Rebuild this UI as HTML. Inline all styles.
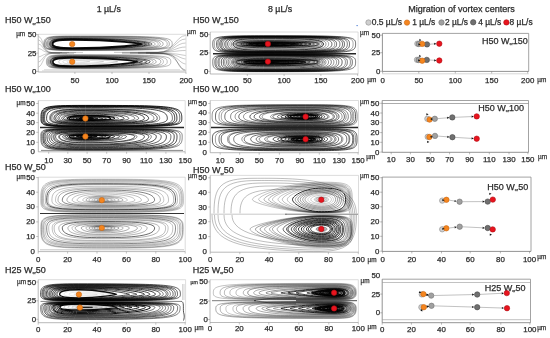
<!DOCTYPE html><html><head><meta charset="utf-8"><title>Migration of vortex centers</title><style>html,body{margin:0;padding:0;background:#fff;overflow:hidden}svg{display:block}</style></head><body>
<svg width="550" height="338" viewBox="0 0 550 338" font-family="Liberation Sans, sans-serif">
<defs><filter id="b" x="-5%" y="-5%" width="110%" height="110%"><feGaussianBlur stdDeviation="0.3"/></filter>
<filter id="b2" x="-5%" y="-5%" width="110%" height="110%"><feGaussianBlur stdDeviation="0.25"/></filter></defs>
<rect width="550" height="338" fill="#fff"/>
<g fill="none" stroke="#000" filter="url(#b)">
<path d="M142.4 44.1C142.4 43.9 117.2 39.8 72.1 39.8C56.7 39.8 52.5 40.8 52.5 44.1C52.5 47.2 56.7 48.2 72.1 48.2C117.2 48.2 142.4 44.3 142.4 44.1Z" stroke-width="1.92" stroke-opacity="0.95"/>
<path d="M146.6 44.1C146.6 43.4 122.5 39.2 72.1 39.2C55.9 39.2 51.2 40.3 51.2 44.1C51.2 47.6 55.9 48.5 72.1 48.5C122.5 48.5 146.6 44.7 146.6 44.1Z" stroke-width="0.76" stroke-opacity="0.85"/>
<path d="M149.6 44.1C149.6 42.7 129.2 38.8 72.1 38.8C55 38.8 50.3 39.9 50.3 44.1C50.3 47.8 55 48.8 72.1 48.8C129.2 48.8 149.6 45.3 149.6 44.1Z" stroke-width="0.86" stroke-opacity="0.85"/>
<path d="M152.1 44.1C152.1 42.1 135.3 38.5 72.1 38.5C54.2 38.5 49.5 39.5 49.5 44.1C49.5 48.1 54.2 48.9 72.1 48.9C135.3 48.9 152.1 45.9 152.1 44.1Z" stroke-width="0.76" stroke-opacity="0.85"/>
<path d="M155.2 44.1C155.2 41.2 143.2 38.1 72.1 38.1C53.2 38.1 48.6 39.1 48.6 44.1C48.6 48.3 53.2 49.2 72.1 49.2C143.2 49.2 155.2 46.6 155.2 44.1Z" stroke-width="0.45" stroke-opacity="0.68"/>
<path d="M158.2 44.1C158.2 40.4 149.3 37.7 72.1 37.7C52.3 37.7 47.8 38.7 47.8 44.1C47.8 48.6 52.3 49.4 72.1 49.4C149.3 49.4 158.2 47.1 158.2 44.1Z" stroke-width="0.38" stroke-opacity="0.68"/>
<path d="M160.3 44.1C160.3 40 151.9 37.5 72.1 37.5C51.6 37.5 47.2 38.4 47.2 44.1C47.2 48.7 51.6 49.5 72.1 49.5C151.9 49.5 160.3 47.5 160.3 44.1Z" stroke-width="0.45" stroke-opacity="0.68"/>
<path d="M163.1 44.1C163.1 39.3 155.5 37.1 72.1 37.1C50.6 37.1 46.4 38 46.4 44.1C46.4 49 50.6 49.7 72.1 49.7C155.5 49.7 163.1 47.9 163.1 44.1Z" stroke-width="0.48" stroke-opacity="0.68"/>
<path d="M167.2 44.1C167.2 38.3 160.9 36.6 72.1 36.6C49.2 36.6 45.2 37.5 45.2 44.1C45.2 49.4 49.2 50 72.1 50C160.9 50 167.2 48.7 167.2 44.1Z" stroke-width="0.43" stroke-opacity="0.68"/>
<path d="M169.3 44.1C169.3 37.8 163.7 36.4 72.1 36.4C48.4 36.4 44.6 37.2 44.6 44.1C44.6 49.5 48.4 50.2 72.1 50.2C163.7 50.2 169.3 49.1 169.3 44.1Z" stroke-width="0.47" stroke-opacity="0.68"/>
<path d="M172.2 44.1C172.2 37 167.7 36 72.1 36C47.3 36 43.8 36.7 43.8 44.1C43.8 49.8 47.3 50.4 72.1 50.4C167.7 50.4 172.2 49.6 172.2 44.1Z" stroke-width="0.46" stroke-opacity="0.68"/>
<path d="M137.9 61.7C137.9 61.5 113.2 57.9 72.1 57.9C57.1 57.9 52.9 58.8 52.9 61.7C52.9 65.1 57.1 66.1 72.1 66.1C113.2 66.1 137.9 61.9 137.9 61.7Z" stroke-width="1.65" stroke-opacity="0.95"/>
<path d="M142.5 61.7C142.5 61.1 119 57.4 72.1 57.4C56.5 57.4 52 58.3 52 61.7C52 65.4 56.5 66.5 72.1 66.5C119 66.5 142.5 62.4 142.5 61.7Z" stroke-width="0.88" stroke-opacity="0.85"/>
<path d="M147 61.7C147 60.3 128.4 57 72.1 57C55.7 57 51.1 57.9 51.1 61.7C51.1 65.8 55.7 66.8 72.1 66.8C128.4 66.8 147 63.2 147 61.7Z" stroke-width="0.74" stroke-opacity="0.85"/>
<path d="M150.2 61.7C150.2 59.6 135.9 56.7 72.1 56.7C54.9 56.7 50.5 57.6 50.5 61.7C50.5 66.1 54.9 67 72.1 67C135.9 67 150.2 63.9 150.2 61.7Z" stroke-width="0.85" stroke-opacity="0.85"/>
<path d="M153.2 61.7C153.2 58.9 143.1 56.4 72.1 56.4C54.3 56.4 49.9 57.2 49.9 61.7C49.9 66.3 54.3 67.2 72.1 67.2C143.1 67.2 153.2 64.6 153.2 61.7Z" stroke-width="0.42" stroke-opacity="0.68"/>
<path d="M156.1 61.7C156.1 58.4 147.7 56.1 72.1 56.1C53.6 56.1 49.3 56.9 49.3 61.7C49.3 66.6 53.6 67.5 72.1 67.5C147.7 67.5 156.1 65.1 156.1 61.7Z" stroke-width="0.49" stroke-opacity="0.68"/>
<path d="M160.8 61.7C160.8 57.5 153.6 55.7 72.1 55.7C52.4 55.7 48.4 56.4 48.4 61.7C48.4 67 52.4 67.8 72.1 67.8C153.6 67.8 160.8 65.9 160.8 61.7Z" stroke-width="0.49" stroke-opacity="0.68"/>
<path d="M163.4 61.7C163.4 57 157 55.4 72.1 55.4C51.7 55.4 47.8 56.1 47.8 61.7C47.8 67.3 51.7 68 72.1 68C157 68 163.4 66.4 163.4 61.7Z" stroke-width="0.37" stroke-opacity="0.68"/>
<path d="M167.2 61.7C167.2 56.2 162 55 72.1 55C50.7 55 47.1 55.7 47.1 61.7C47.1 67.6 50.7 68.3 72.1 68.3C162 68.3 167.2 67.1 167.2 61.7Z" stroke-width="0.38" stroke-opacity="0.68"/>
<path d="M170.8 61.7C170.8 55.4 166.9 54.7 72.1 54.7C49.7 54.7 46.4 55.3 46.4 61.7C46.4 67.9 49.7 68.5 72.1 68.5C166.9 68.5 170.8 67.8 170.8 61.7Z" stroke-width="0.39" stroke-opacity="0.68"/>
<path d="M89.8 61.7C89.8 61.7 83.2 60.7 72.1 60.7C68.1 60.7 66.9 61 66.9 61.7C66.9 62.5 68.1 62.9 72.1 62.9C83.2 62.9 89.8 61.7 89.8 61.7Z" stroke-width="0.3" stroke-opacity="0.4"/>
<path d="M103.7 61.7C103.7 61.7 91.8 59.9 72.1 59.9C64.9 59.9 62.9 60.4 62.9 61.7C62.9 63.1 64.9 63.8 72.1 63.8C91.8 63.8 103.7 61.7 103.7 61.7Z" stroke-width="0.3" stroke-opacity="0.45"/>
<path d="M117.7 61.7C117.7 61.6 100.5 59 72.1 59C61.7 59 58.8 59.8 58.8 61.7C58.8 63.9 61.7 64.8 72.1 64.8C100.5 64.8 117.7 61.8 117.7 61.7Z" stroke-width="0.35" stroke-opacity="0.5"/>
<path d="M38.5 36.5C44 37.5 42 52.6 52 52.6L62 52.6" stroke-width="0.4" stroke-opacity="0.5"/>
<path d="M38.5 40C44 41 42 52.6 52 52.6L69 52.6" stroke-width="0.4" stroke-opacity="0.5"/>
<path d="M38.5 44C44 45 42 52.6 52 52.6L76 52.6" stroke-width="0.4" stroke-opacity="0.5"/>
<path d="M38.5 48.5C44 49.5 42 52.6 52 52.6L83 52.6" stroke-width="0.4" stroke-opacity="0.5"/>
<path d="M38.5 57C43 56 43 53.4 52 53.4L60 53.4" stroke-width="0.4" stroke-opacity="0.5"/>
<path d="M38.5 62C43 61 43 53.4 52 53.4L67 53.4" stroke-width="0.4" stroke-opacity="0.5"/>
<path d="M38.5 67C43 66 43 53.4 52 53.4L74 53.4" stroke-width="0.4" stroke-opacity="0.5"/>
<path d="M185.7 35.5C176 35.5 174 52.4 158 52.4L146 52.4" stroke-width="0.4" stroke-opacity="0.55"/>
<path d="M185.7 39C176 39 174 52.4 158 52.4L138 52.4" stroke-width="0.4" stroke-opacity="0.55"/>
<path d="M185.7 43C176 43 174 52.4 158 52.4L130 52.4" stroke-width="0.4" stroke-opacity="0.55"/>
<path d="M185.7 47C176 47 174 52.4 158 52.4L122 52.4" stroke-width="0.4" stroke-opacity="0.55"/>
<path d="M185.7 50.5C176 50.5 174 52.4 158 52.4L114 52.4" stroke-width="0.4" stroke-opacity="0.55"/>
<path d="M185.7 55.5C178 54.5 178 53.4 160 53.4L146 53.4" stroke-width="0.4" stroke-opacity="0.55"/>
<path d="M185.7 59C178 58 178 53.4 160 53.4L138 53.4" stroke-width="0.4" stroke-opacity="0.55"/>
<path d="M185.7 64C178 63 178 53.4 160 53.4L130 53.4" stroke-width="0.4" stroke-opacity="0.55"/>
<path d="M185.7 70C178 69 178 53.4 160 53.4L122 53.4" stroke-width="0.4" stroke-opacity="0.55"/>
<path d="M185.5 70.5C180 70 178 62 174 57C171 54 166 53.8 150 53.8" stroke-width="0.5" stroke-opacity="0.6"/>
<path d="M44 69.7H180" stroke-width="0.35" stroke-opacity="0.4"/>
<path d="M42 70.7H184" stroke-width="0.35" stroke-opacity="0.35"/>
<path d="M93.5 118.5C93.5 118.3 91.1 117.8 85.4 117.8C81 117.8 79.2 118.3 79.2 118.5C79.2 118.6 81 119 85.4 119C91.1 119 93.5 118.6 93.5 118.5Z" stroke-width="1.12" stroke-opacity="0.95"/>
<path d="M97.8 118.5C97.8 118.2 94.2 117.4 85.4 117.4C78.7 117.4 75.9 118.2 75.9 118.5C75.9 118.7 78.7 119.2 85.4 119.2C94.2 119.2 97.8 118.7 97.8 118.5Z" stroke-width="0.97" stroke-opacity="0.95"/>
<path d="M102.7 118.5C102.7 117.9 97.8 116.8 85.4 116.8C76.5 116.8 72.9 117.9 72.9 118.5C72.9 118.8 76.5 119.5 85.4 119.5C97.8 119.5 102.7 118.8 102.7 118.5Z" stroke-width="0.8" stroke-opacity="0.95"/>
<path d="M106.3 118.5C106.3 117.8 100.4 116.4 85.4 116.4C75.3 116.4 71.3 117.8 71.3 118.5C71.3 119 75.3 119.8 85.4 119.8C100.4 119.8 106.3 119 106.3 118.5Z" stroke-width="0.67" stroke-opacity="0.95"/>
<path d="M110.7 118.5C110.7 117.5 103.7 115.9 85.4 115.9C73.7 115.9 69.3 117.5 69.3 118.5C69.3 119.1 73.7 120.1 85.4 120.1C103.7 120.1 110.7 119.1 110.7 118.5Z" stroke-width="1.13" stroke-opacity="0.95"/>
<path d="M114.6 118.5C114.6 117.2 106.6 115.4 85.4 115.4C72.4 115.4 67.5 117.2 67.5 118.5C67.5 119.3 72.4 120.4 85.4 120.4C106.6 120.4 114.6 119.3 114.6 118.5Z" stroke-width="1.21" stroke-opacity="0.95"/>
<path d="M118.5 118.5C118.5 116.9 109.6 114.9 85.4 114.9C71.1 114.9 65.8 116.9 65.8 118.5C65.8 119.5 71.1 120.8 85.4 120.8C109.6 120.8 118.5 119.5 118.5 118.5Z" stroke-width="0.53" stroke-opacity="0.9"/>
<path d="M124.2 118.5C124.2 116.3 114 114 85.4 114C69.3 114 63.6 116.3 63.6 118.5C63.6 119.8 69.3 121.3 85.4 121.3C114 121.3 124.2 119.8 124.2 118.5Z" stroke-width="0.85" stroke-opacity="0.9"/>
<path d="M128.8 118.5C128.8 115.8 117.7 113.3 85.4 113.3C67.8 113.3 61.7 115.8 61.7 118.5C61.7 120.2 67.8 121.7 85.4 121.7C117.7 121.7 128.8 120.2 128.8 118.5Z" stroke-width="0.68" stroke-opacity="0.9"/>
<path d="M134.8 118.5C134.8 115.1 122.6 112.4 85.4 112.4C65.8 112.4 59.4 115.1 59.4 118.5C59.4 120.7 65.8 122.3 85.4 122.3C122.6 122.3 134.8 120.7 134.8 118.5Z" stroke-width="0.56" stroke-opacity="0.9"/>
<path d="M138.6 118.5C138.6 114.5 125.6 111.9 85.4 111.9C64.6 111.9 57.9 114.5 57.9 118.5C57.9 121 64.6 122.7 85.4 122.7C125.6 122.7 138.6 121 138.6 118.5Z" stroke-width="0.62" stroke-opacity="0.9"/>
<path d="M144.3 118.5C144.3 113.7 130.4 111 85.4 111C62.7 111 55.7 113.7 55.7 118.5C55.7 121.5 62.7 123.2 85.4 123.2C130.4 123.2 144.3 121.5 144.3 118.5Z" stroke-width="0.84" stroke-opacity="0.9"/>
<path d="M148.6 118.5C148.6 113 134.1 110.4 85.4 110.4C61.2 110.4 54 113 54 118.5C54 122 61.2 123.6 85.4 123.6C134.1 123.6 148.6 122 148.6 118.5Z" stroke-width="0.89" stroke-opacity="0.9"/>
<path d="M153.9 118.5C153.9 112 138.6 109.6 85.4 109.6C59.4 109.6 51.9 112 51.9 118.5C51.9 122.5 59.4 124.1 85.4 124.1C138.6 124.1 153.9 122.5 153.9 118.5Z" stroke-width="0.51" stroke-opacity="0.9"/>
<path d="M157.2 118.5C157.2 111.4 141.6 109.1 85.4 109.1C58.2 109.1 50.6 111.4 50.6 118.5C50.6 122.9 58.2 124.4 85.4 124.4C141.6 124.4 157.2 122.9 157.2 118.5Z" stroke-width="0.77" stroke-opacity="0.9"/>
<path d="M159.7 118.5C159.7 110.9 145.1 108.7 85.4 108.7C56.7 108.7 49.6 110.9 49.6 118.5C49.6 123.2 56.7 124.7 85.4 124.7C145.1 124.7 159.7 123.2 159.7 118.5Z" stroke-width="0.51" stroke-opacity="0.9"/>
<path d="M167.3 118.5C167.3 109.4 156.1 107.5 85.4 107.5C52 107.5 46.6 109.4 46.6 118.5C46.6 124.2 52 125.4 85.4 125.4C156.1 125.4 167.3 124.2 167.3 118.5Z" stroke-width="0.82" stroke-opacity="0.9"/>
<path d="M172.4 118.5C172.4 108.3 164 106.8 85.4 106.8C48.6 106.8 44.6 108.3 44.6 118.5C44.6 124.9 48.6 125.9 85.4 125.9C164 125.9 172.4 124.9 172.4 118.5Z" stroke-width="0.64" stroke-opacity="0.9"/>
<path d="M174.7 118.5C174.7 107.7 167.6 106.4 85.4 106.4C47.1 106.4 43.8 107.7 43.8 118.5C43.8 125.2 47.1 126.1 85.4 126.1C167.6 126.1 174.7 125.2 174.7 118.5Z" stroke-width="0.89" stroke-opacity="0.9"/>
<path d="M176.9 118.5C176.9 107.2 170.9 106.1 85.4 106.1C45.7 106.1 42.9 107.2 42.9 118.5C42.9 125.6 45.7 126.3 85.4 126.3C170.9 126.3 176.9 125.6 176.9 118.5Z" stroke-width="0.94" stroke-opacity="0.9"/>
<path d="M179.8 118.5C179.8 106.5 175.3 105.7 85.4 105.7C43.9 105.7 41.8 106.5 41.8 118.5C41.8 126 43.9 126.5 85.4 126.5C175.3 126.5 179.8 126 179.8 118.5Z" stroke-width="0.72" stroke-opacity="0.9"/>
<path d="M181.8 118.5C181.8 106.1 178.3 105.4 85.4 105.4C42.6 105.4 41 106.1 41 118.5C41 126.3 42.6 126.7 85.4 126.7C178.3 126.7 181.8 126.3 181.8 118.5Z" stroke-width="0.94" stroke-opacity="0.9"/>
<path d="M92.1 136.4C92.1 136.3 90.1 136 85.4 136C81.8 136 80.3 136.3 80.3 136.4C80.3 136.6 81.8 137 85.4 137C90.1 137 92.1 136.6 92.1 136.4Z" stroke-width="0.88" stroke-opacity="0.95"/>
<path d="M97 136.4C97 136.2 93.6 135.8 85.4 135.8C79.1 135.8 76.5 136.2 76.5 136.4C76.5 136.7 79.1 137.5 85.4 137.5C93.6 137.5 97 136.7 97 136.4Z" stroke-width="1.05" stroke-opacity="0.95"/>
<path d="M102.7 136.4C102.7 136.1 97.7 135.4 85.4 135.4C76.5 135.4 72.9 136.1 72.9 136.4C72.9 137 76.5 138.1 85.4 138.1C97.7 138.1 102.7 137 102.7 136.4Z" stroke-width="0.77" stroke-opacity="0.95"/>
<path d="M105.8 136.4C105.8 136 100.1 135.2 85.4 135.2C75.4 135.2 71.5 136 71.5 136.4C71.5 137.1 75.4 138.5 85.4 138.5C100.1 138.5 105.8 137.1 105.8 136.4Z" stroke-width="0.81" stroke-opacity="0.95"/>
<path d="M110.2 136.4C110.2 135.8 103.3 134.8 85.4 134.8C73.9 134.8 69.5 135.8 69.5 136.4C69.5 137.4 73.9 139 85.4 139C103.3 139 110.2 137.4 110.2 136.4Z" stroke-width="1.2" stroke-opacity="0.95"/>
<path d="M114.6 136.4C114.6 135.6 106.6 134.5 85.4 134.5C72.4 134.5 67.5 135.6 67.5 136.4C67.5 137.7 72.4 139.6 85.4 139.6C106.6 139.6 114.6 137.7 114.6 136.4Z" stroke-width="0.93" stroke-opacity="0.95"/>
<path d="M119.6 136.4C119.6 135.4 110.4 134.1 85.4 134.1C70.7 134.1 65.4 135.4 65.4 136.4C65.4 138.1 70.7 140.3 85.4 140.3C110.4 140.3 119.6 138.1 119.6 136.4Z" stroke-width="0.74" stroke-opacity="0.9"/>
<path d="M122.4 136.4C122.4 135.2 112.6 133.8 85.4 133.8C69.9 133.8 64.3 135.2 64.3 136.4C64.3 138.4 69.9 140.7 85.4 140.7C112.6 140.7 122.4 138.4 122.4 136.4Z" stroke-width="0.5" stroke-opacity="0.9"/>
<path d="M126.5 136.4C126.5 134.9 115.9 133.5 85.4 133.5C68.5 133.5 62.6 134.9 62.6 136.4C62.6 138.9 68.5 141.4 85.4 141.4C115.9 141.4 126.5 138.9 126.5 136.4Z" stroke-width="0.68" stroke-opacity="0.9"/>
<path d="M134.7 136.4C134.7 134.3 122.4 132.7 85.4 132.7C65.9 132.7 59.4 134.3 59.4 136.4C59.4 139.9 65.9 142.7 85.4 142.7C122.4 142.7 134.7 139.9 134.7 136.4Z" stroke-width="0.75" stroke-opacity="0.9"/>
<path d="M137 136.4C137 134.1 124.4 132.5 85.4 132.5C65.1 132.5 58.5 134.1 58.5 136.4C58.5 140.3 65.1 143 85.4 143C124.4 143 137 140.3 137 136.4Z" stroke-width="0.5" stroke-opacity="0.9"/>
<path d="M144.4 136.4C144.4 133.4 130.5 131.8 85.4 131.8C62.7 131.8 55.6 133.4 55.6 136.4C55.6 141.4 62.7 144.2 85.4 144.2C130.5 144.2 144.4 141.4 144.4 136.4Z" stroke-width="0.77" stroke-opacity="0.9"/>
<path d="M148.8 136.4C148.8 133 134.2 131.4 85.4 131.4C61.2 131.4 53.9 133 53.9 136.4C53.9 142.2 61.2 144.9 85.4 144.9C134.2 144.9 148.8 142.2 148.8 136.4Z" stroke-width="0.78" stroke-opacity="0.9"/>
<path d="M151.3 136.4C151.3 132.7 136.3 131.2 85.4 131.2C60.3 131.2 52.9 132.7 52.9 136.4C52.9 142.6 60.3 145.3 85.4 145.3C136.3 145.3 151.3 142.6 151.3 136.4Z" stroke-width="0.52" stroke-opacity="0.9"/>
<path d="M156.3 136.4C156.3 132.2 140.7 130.7 85.4 130.7C58.6 130.7 51 132.2 51 136.4C51 143.6 58.6 146.1 85.4 146.1C140.7 146.1 156.3 143.6 156.3 136.4Z" stroke-width="0.78" stroke-opacity="0.9"/>
<path d="M161.2 136.4C161.2 131.6 147.2 130.3 85.4 130.3C55.8 130.3 49 131.6 49 136.4C49 144.6 55.8 146.8 85.4 146.8C147.2 146.8 161.2 144.6 161.2 136.4Z" stroke-width="0.7" stroke-opacity="0.9"/>
<path d="M166.4 136.4C166.4 130.9 154.7 129.8 85.4 129.8C52.5 129.8 47 130.9 47 136.4C47 145.7 52.5 147.6 85.4 147.6C154.7 147.6 166.4 145.7 166.4 136.4Z" stroke-width="0.8" stroke-opacity="0.9"/>
<path d="M170.9 136.4C170.9 130.3 161.6 129.4 85.4 129.4C49.6 129.4 45.2 130.3 45.2 136.4C45.2 146.7 49.6 148.3 85.4 148.3C161.6 148.3 170.9 146.7 170.9 136.4Z" stroke-width="0.65" stroke-opacity="0.9"/>
<path d="M174.2 136.4C174.2 129.9 166.9 129.1 85.4 129.1C47.4 129.1 43.9 129.9 43.9 136.4C43.9 147.4 47.4 148.9 85.4 148.9C166.9 148.9 174.2 147.4 174.2 136.4Z" stroke-width="0.81" stroke-opacity="0.9"/>
<path d="M177 136.4C177 129.5 171 128.8 85.4 128.8C45.6 128.8 42.9 129.5 42.9 136.4C42.9 148.1 45.6 149.3 85.4 149.3C171 149.3 177 148.1 177 136.4Z" stroke-width="0.83" stroke-opacity="0.9"/>
<path d="M180.1 136.4C180.1 129 175.7 128.5 85.4 128.5C43.7 128.5 41.6 129 41.6 136.4C41.6 148.9 43.7 149.8 85.4 149.8C175.7 149.8 180.1 148.9 180.1 136.4Z" stroke-width="0.5" stroke-opacity="0.9"/>
<path d="M182.2 136.4C182.2 128.7 179 128.3 85.4 128.3C42.3 128.3 40.8 128.7 40.8 136.4C40.8 149.4 42.3 150.1 85.4 150.1C179 150.1 182.2 149.4 182.2 136.4Z" stroke-width="0.52" stroke-opacity="0.9"/>
<path d="M40 127.5H184" stroke-width="1.5" stroke-opacity="0.85"/>
<path d="M41 150.4H183" stroke-width="0.8" stroke-opacity="0.6"/>
<path d="M108.5 200.2C108.5 199.7 105.8 199 101.8 199C98.8 199 96.8 199.7 96.8 200.2C96.8 200.5 98.8 200.9 101.8 200.9C105.8 200.9 108.5 200.5 108.5 200.2Z" stroke-width="0.48" stroke-opacity="0.7"/>
<path d="M112.5 200.2C112.5 199.3 108.3 198.2 101.8 198.2C97 198.2 93.8 199.3 93.8 200.2C93.8 200.7 97 201.4 101.8 201.4C108.3 201.4 112.5 200.7 112.5 200.2Z" stroke-width="0.37" stroke-opacity="0.7"/>
<path d="M115.4 200.2C115.4 199 110 197.7 101.8 197.7C95.6 197.7 91.7 199 91.7 200.2C91.7 200.9 95.6 201.7 101.8 201.7C110 201.7 115.4 200.9 115.4 200.2Z" stroke-width="0.36" stroke-opacity="0.7"/>
<path d="M119.3 200.2C119.3 198.6 112.5 196.9 101.8 196.9C93.8 196.9 88.7 198.6 88.7 200.2C88.7 201.1 93.8 202.1 101.8 202.1C112.5 202.1 119.3 201.1 119.3 200.2Z" stroke-width="0.41" stroke-opacity="0.7"/>
<path d="M123.1 200.2C123.1 198.2 114.9 196.2 101.8 196.2C92 196.2 85.9 198.2 85.9 200.2C85.9 201.3 92 202.5 101.8 202.5C114.9 202.5 123.1 201.3 123.1 200.2Z" stroke-width="0.46" stroke-opacity="0.7"/>
<path d="M127.4 200.2C127.4 197.7 117.6 195.4 101.8 195.4C90 195.4 82.6 197.7 82.6 200.2C82.6 201.6 90 203 101.8 203C117.6 203 127.4 201.6 127.4 200.2Z" stroke-width="0.34" stroke-opacity="0.65"/>
<path d="M134.9 200.2C134.9 196.8 122.3 194 101.8 194C86.5 194 77.1 196.8 77.1 200.2C77.1 202.1 86.5 203.8 101.8 203.8C122.3 203.8 134.9 202.1 134.9 200.2Z" stroke-width="0.38" stroke-opacity="0.65"/>
<path d="M141.4 200.2C141.4 195.8 127.8 192.7 101.8 192.7C82.4 192.7 72.2 195.8 72.2 200.2C72.2 202.7 82.4 204.5 101.8 204.5C127.8 204.5 141.4 202.7 141.4 200.2Z" stroke-width="0.39" stroke-opacity="0.65"/>
<path d="M148.4 200.2C148.4 194.6 134.7 191.3 101.8 191.3C77.2 191.3 66.9 194.6 66.9 200.2C66.9 203.4 77.2 205.4 101.8 205.4C134.7 205.4 148.4 203.4 148.4 200.2Z" stroke-width="0.49" stroke-opacity="0.65"/>
<path d="M154.6 200.2C154.6 193.5 141.4 190 101.8 190C72.2 190 62.3 193.5 62.3 200.2C62.3 204.1 72.2 206.1 101.8 206.1C141.4 206.1 154.6 204.1 154.6 200.2Z" stroke-width="0.66" stroke-opacity="0.75"/>
<path d="M160.4 200.2C160.4 192 148.7 188.7 101.8 188.7C66.8 188.7 58 192 58 200.2C58 204.9 66.8 206.9 101.8 206.9C148.7 206.9 160.4 204.9 160.4 200.2Z" stroke-width="0.49" stroke-opacity="0.65"/>
<path d="M163.8 200.2C163.8 191 153.6 187.7 101.8 187.7C63.1 187.7 55.5 191 55.5 200.2C55.5 205.5 63.1 207.5 101.8 207.5C153.6 207.5 163.8 205.5 163.8 200.2Z" stroke-width="0.35" stroke-opacity="0.65"/>
<path d="M168.5 200.2C168.5 189.5 159.4 186.3 101.8 186.3C58.7 186.3 51.9 189.5 51.9 200.2C51.9 206.4 58.7 208.3 101.8 208.3C159.4 208.3 168.5 206.4 168.5 200.2Z" stroke-width="0.39" stroke-opacity="0.65"/>
<path d="M173.7 200.2C173.7 187.5 165.7 184.6 101.8 184.6C54 184.6 48 187.5 48 200.2C48 207.5 54 209.2 101.8 209.2C165.7 209.2 173.7 207.5 173.7 200.2Z" stroke-width="0.45" stroke-opacity="0.65"/>
<path d="M175.5 200.2C175.5 186.6 168.1 183.8 101.8 183.8C52.2 183.8 46.7 186.6 46.7 200.2C46.7 208.1 52.2 209.7 101.8 209.7C168.1 209.7 175.5 208.1 175.5 200.2Z" stroke-width="0.87" stroke-opacity="0.75"/>
<path d="M177.4 200.2C177.4 185.5 170.8 182.9 101.8 182.9C50.2 182.9 45.3 185.5 45.3 200.2C45.3 208.7 50.2 210.2 101.8 210.2C170.8 210.2 177.4 208.7 177.4 200.2Z" stroke-width="0.43" stroke-opacity="0.68"/>
<path d="M179.8 200.2C179.8 184 174.3 181.7 101.8 181.7C47.6 181.7 43.5 184 43.5 200.2C43.5 209.6 47.6 210.9 101.8 210.9C174.3 210.9 179.8 209.6 179.8 200.2Z" stroke-width="0.38" stroke-opacity="0.68"/>
<path d="M181.2 200.2C181.2 182.7 176.7 180.8 101.8 180.8C45.8 180.8 42.5 182.7 42.5 200.2C42.5 210.3 45.8 211.4 101.8 211.4C176.7 211.4 181.2 210.3 181.2 200.2Z" stroke-width="0.36" stroke-opacity="0.68"/>
<path d="M182.2 200.2C182.2 181.7 178.5 180 101.8 180C44.5 180 41.7 181.7 41.7 200.2C41.7 210.9 44.5 211.9 101.8 211.9C178.5 211.9 182.2 210.9 182.2 200.2Z" stroke-width="0.45" stroke-opacity="0.68"/>
<path d="M183.4 200.2C183.4 180.5 180.7 179.2 101.8 179.2C42.8 179.2 40.8 180.5 40.8 200.2C40.8 211.6 42.8 212.4 101.8 212.4C180.7 212.4 183.4 211.6 183.4 200.2Z" stroke-width="0.38" stroke-opacity="0.68"/>
<path d="M108.6 227.9C108.6 227.6 105.9 227.1 101.8 227.1C98.7 227.1 96.7 227.6 96.7 227.9C96.7 228.4 98.7 229.1 101.8 229.1C105.9 229.1 108.6 228.4 108.6 227.9Z" stroke-width="0.32" stroke-opacity="0.7"/>
<path d="M112.3 227.9C112.3 227.3 108.2 226.7 101.8 226.7C97 226.7 93.9 227.3 93.9 227.9C93.9 228.7 97 229.8 101.8 229.8C108.2 229.8 112.3 228.7 112.3 227.9Z" stroke-width="0.51" stroke-opacity="0.7"/>
<path d="M115.3 227.9C115.3 227.2 110 226.3 101.8 226.3C95.7 226.3 91.7 227.2 91.7 227.9C91.7 229 95.7 230.3 101.8 230.3C110 230.3 115.3 229 115.3 227.9Z" stroke-width="0.5" stroke-opacity="0.7"/>
<path d="M119.1 227.9C119.1 226.9 112.3 225.9 101.8 225.9C93.9 225.9 88.9 226.9 88.9 227.9C88.9 229.4 93.9 231 101.8 231C112.3 231 119.1 229.4 119.1 227.9Z" stroke-width="0.52" stroke-opacity="0.7"/>
<path d="M123.4 227.9C123.4 226.6 115 225.4 101.8 225.4C91.9 225.4 85.7 226.6 85.7 227.9C85.7 229.8 91.9 231.8 101.8 231.8C115 231.8 123.4 229.8 123.4 227.9Z" stroke-width="0.41" stroke-opacity="0.7"/>
<path d="M129.3 227.9C129.3 226.2 118.7 224.7 101.8 224.7C89.1 224.7 81.2 226.2 81.2 227.9C81.2 230.5 89.1 232.9 101.8 232.9C118.7 232.9 129.3 230.5 129.3 227.9Z" stroke-width="0.51" stroke-opacity="0.65"/>
<path d="M137.4 227.9C137.4 225.6 124.1 223.7 101.8 223.7C85.1 223.7 75.2 225.6 75.2 227.9C75.2 231.5 85.1 234.4 101.8 234.4C124.1 234.4 137.4 231.5 137.4 227.9Z" stroke-width="0.51" stroke-opacity="0.65"/>
<path d="M141.6 227.9C141.6 225.1 128 223.2 101.8 223.2C82.2 223.2 72 225.1 72 227.9C72 232.1 82.2 235.2 101.8 235.2C128 235.2 141.6 232.1 141.6 227.9Z" stroke-width="0.36" stroke-opacity="0.65"/>
<path d="M147.1 227.9C147.1 224.5 133.4 222.5 101.8 222.5C78.2 222.5 67.9 224.5 67.9 227.9C67.9 233.1 78.2 236.3 101.8 236.3C133.4 236.3 147.1 233.1 147.1 227.9Z" stroke-width="0.47" stroke-opacity="0.65"/>
<path d="M154.6 227.9C154.6 223.7 141.4 221.5 101.8 221.5C72.2 221.5 62.3 223.7 62.3 227.9C62.3 234.4 72.2 237.7 101.8 237.7C141.4 237.7 154.6 234.4 154.6 227.9Z" stroke-width="0.79" stroke-opacity="0.75"/>
<path d="M159.3 227.9C159.3 223 147.2 220.8 101.8 220.8C67.9 220.8 58.8 223 58.8 227.9C58.8 235.5 67.9 238.8 101.8 238.8C147.2 238.8 159.3 235.5 159.3 227.9Z" stroke-width="0.45" stroke-opacity="0.65"/>
<path d="M165.6 227.9C165.6 221.7 156.1 219.7 101.8 219.7C61.2 219.7 54.1 221.7 54.1 227.9C54.1 237.4 61.2 240.5 101.8 240.5C156.1 240.5 165.6 237.4 165.6 227.9Z" stroke-width="0.42" stroke-opacity="0.65"/>
<path d="M168.1 227.9C168.1 221.2 159 219.2 101.8 219.2C59 219.2 52.2 221.2 52.2 227.9C52.2 238.2 59 241.3 101.8 241.3C159 241.3 168.1 238.2 168.1 227.9Z" stroke-width="0.38" stroke-opacity="0.65"/>
<path d="M172.8 227.9C172.8 220.2 164.4 218.3 101.8 218.3C55 218.3 48.7 220.2 48.7 227.9C48.7 239.7 55 242.6 101.8 242.6C164.4 242.6 172.8 239.7 172.8 227.9Z" stroke-width="0.39" stroke-opacity="0.65"/>
<path d="M175.5 227.9C175.5 219.3 168.1 217.6 101.8 217.6C52.2 217.6 46.7 219.3 46.7 227.9C46.7 241.1 52.2 243.8 101.8 243.8C168.1 243.8 175.5 241.1 175.5 227.9Z" stroke-width="0.64" stroke-opacity="0.75"/>
<path d="M177.8 227.9C177.8 218.5 171.3 216.9 101.8 216.9C49.8 216.9 45 218.5 45 227.9C45 242.4 49.8 244.8 101.8 244.8C171.3 244.8 177.8 242.4 177.8 227.9Z" stroke-width="0.35" stroke-opacity="0.68"/>
<path d="M179.7 227.9C179.7 217.8 174.1 216.3 101.8 216.3C47.7 216.3 43.6 217.8 43.6 227.9C43.6 243.5 47.7 245.7 101.8 245.7C174.1 245.7 179.7 243.5 179.7 227.9Z" stroke-width="0.46" stroke-opacity="0.68"/>
<path d="M181 227.9C181 217 176.3 215.8 101.8 215.8C46.1 215.8 42.6 217 42.6 227.9C42.6 244.6 46.1 246.6 101.8 246.6C176.3 246.6 181 244.6 181 227.9Z" stroke-width="0.4" stroke-opacity="0.68"/>
<path d="M182.6 227.9C182.6 216 179.2 215 101.8 215C44 215 41.4 216 41.4 227.9C41.4 246.1 44 247.7 101.8 247.7C179.2 247.7 182.6 246.1 182.6 227.9Z" stroke-width="0.51" stroke-opacity="0.68"/>
<path d="M183.3 227.9C183.3 215.5 180.6 214.7 101.8 214.7C42.9 214.7 40.8 215.5 40.8 227.9C40.8 246.9 42.9 248.2 101.8 248.2C180.6 248.2 183.3 246.9 183.3 227.9Z" stroke-width="0.35" stroke-opacity="0.68"/>
<path d="M40 213.5H184" stroke-width="1" stroke-opacity="0.8"/>
<path d="M40 249.8H184" stroke-width="0.45" stroke-opacity="0.5"/>
<path d="M116.7 294.3C116.7 294.1 99.7 289.8 78.9 289.8C63.7 289.8 59.6 291.5 59.6 294.3C59.6 296.6 63.7 297.9 78.9 297.9C99.7 297.9 116.7 294.4 116.7 294.3Z" stroke-width="1.38" stroke-opacity="0.95"/>
<path d="M129.5 294.3C129.5 293.9 107.2 289.1 78.9 289.1C61.6 289.1 57.1 290.8 57.1 294.3C57.1 297 61.6 298.3 78.9 298.3C107.2 298.3 129.5 294.6 129.5 294.3Z" stroke-width="0.78" stroke-opacity="0.9"/>
<path d="M136.8 294.3C136.8 293.3 115.8 288.6 78.9 288.6C60.3 288.6 55.7 290.4 55.7 294.3C55.7 297.2 60.3 298.5 78.9 298.5C115.8 298.5 136.8 295 136.8 294.3Z" stroke-width="0.75" stroke-opacity="0.9"/>
<path d="M144.5 294.3C144.5 292.6 125.4 288.1 78.9 288.1C58.7 288.1 54 289.9 54 294.3C54 297.5 58.7 298.8 78.9 298.8C125.4 298.8 144.5 295.5 144.5 294.3Z" stroke-width="0.92" stroke-opacity="0.9"/>
<path d="M149.9 294.3C149.9 291.8 133 287.6 78.9 287.6C57.3 287.6 52.5 289.4 52.5 294.3C52.5 297.7 57.3 299 78.9 299C133 299 149.9 296.1 149.9 294.3Z" stroke-width="0.81" stroke-opacity="0.9"/>
<path d="M155.3 294.3C155.3 290.9 141.2 287.1 78.9 287.1C55.8 287.1 50.9 288.9 50.9 294.3C50.9 298 55.8 299.3 78.9 299.3C141.2 299.3 155.3 296.6 155.3 294.3Z" stroke-width="0.9" stroke-opacity="0.9"/>
<path d="M160.1 294.3C160.1 290.1 148.6 286.7 78.9 286.7C54.4 286.7 49.6 288.4 49.6 294.3C49.6 298.3 54.4 299.5 78.9 299.5C148.6 299.5 160.1 297.2 160.1 294.3Z" stroke-width="0.78" stroke-opacity="0.9"/>
<path d="M163.2 294.3C163.2 289.5 153.5 286.4 78.9 286.4C53.4 286.4 48.6 288.1 48.6 294.3C48.6 298.5 53.4 299.6 78.9 299.6C153.5 299.6 163.2 297.5 163.2 294.3Z" stroke-width="0.6" stroke-opacity="0.85"/>
<path d="M166.3 294.3C166.3 288.7 157.3 285.9 78.9 285.9C51.9 285.9 47.1 287.5 47.1 294.3C47.1 298.8 51.9 299.8 78.9 299.8C157.3 299.8 166.3 298 166.3 294.3Z" stroke-width="0.67" stroke-opacity="0.85"/>
<path d="M168 294.3C168 288.4 159.3 285.6 78.9 285.6C51.1 285.6 46.3 287.2 46.3 294.3C46.3 298.9 51.1 300 78.9 300C159.3 300 168 298.2 168 294.3Z" stroke-width="0.74" stroke-opacity="0.85"/>
<path d="M170.4 294.3C170.4 287.7 162.4 285.3 78.9 285.3C49.9 285.3 45.2 286.8 45.2 294.3C45.2 299.1 49.9 300.1 78.9 300.1C162.4 300.1 170.4 298.5 170.4 294.3Z" stroke-width="0.59" stroke-opacity="0.85"/>
<path d="M173.1 294.3C173.1 287 166 284.9 78.9 284.9C48.6 284.9 43.9 286.3 43.9 294.3C43.9 299.4 48.6 300.3 78.9 300.3C166 300.3 173.1 299 173.1 294.3Z" stroke-width="0.73" stroke-opacity="0.85"/>
<path d="M175.3 294.3C175.3 286.4 168.8 284.6 78.9 284.6C47.5 284.6 42.9 285.9 42.9 294.3C42.9 299.6 47.5 300.5 78.9 300.5C168.8 300.5 175.3 299.3 175.3 294.3Z" stroke-width="0.76" stroke-opacity="0.85"/>
<path d="M177.5 294.3C177.5 285.8 171.8 284.2 78.9 284.2C46.4 284.2 41.9 285.5 41.9 294.3C41.9 299.9 46.4 300.6 78.9 300.6C171.8 300.6 177.5 299.6 177.5 294.3Z" stroke-width="0.74" stroke-opacity="0.85"/>
<path d="M180.4 294.3C180.4 285 175.8 283.8 78.9 283.8C44.8 283.8 40.5 284.9 40.5 294.3C40.5 300.2 44.8 300.9 78.9 300.9C175.8 300.9 180.4 300.1 180.4 294.3Z" stroke-width="0.74" stroke-opacity="0.85"/>
<path d="M97.5 294.3C97.5 294.3 93.7 293.5 78.9 293.5C75 293.5 74.1 293.8 74.1 294.3C74.1 294.7 75 295 78.9 295C93.7 295 97.5 294.3 97.5 294.3Z" stroke-width="0.3" stroke-opacity="0.3"/>
<path d="M104.2 294.3C104.2 294.3 94.6 292.2 78.9 292.2C71.2 292.2 69 293.1 69 294.3C69 295.3 71.2 296 78.9 296C94.6 296 104.2 294.3 104.2 294.3Z" stroke-width="0.3" stroke-opacity="0.3"/>
<path d="M110.9 294.3C110.9 294.2 96.5 290.9 78.9 290.9C67.3 290.9 64 292.3 64 294.3C64 296 67.3 297 78.9 297C96.5 297 110.9 294.4 110.9 294.3Z" stroke-width="0.3" stroke-opacity="0.3"/>
<path d="M117.4 307.3C117.4 307.2 102.8 304.1 80 304.1C63.1 304.1 60.1 305.3 60.1 307.3C60.1 308.9 63.1 309.9 80 309.9C102.8 309.9 117.4 307.4 117.4 307.3Z" stroke-width="1.14" stroke-opacity="0.95"/>
<path d="M124.4 307.3C124.4 307.1 107.3 303.9 80 303.9C62.1 303.9 58.7 305.1 58.7 307.3C58.7 309.5 62.1 310.8 80 310.8C107.3 310.8 124.4 307.5 124.4 307.3Z" stroke-width="1.03" stroke-opacity="0.95"/>
<path d="M132 307.3C132 306.9 113.5 303.7 80 303.7C61 303.7 57.2 304.9 57.2 307.3C57.2 310.2 61 311.7 80 311.7C113.5 311.7 132 307.7 132 307.3Z" stroke-width="0.96" stroke-opacity="0.95"/>
<path d="M139.2 307.3C139.2 306.6 120.8 303.6 80 303.6C59.9 303.6 55.7 304.7 55.7 307.3C55.7 310.9 59.9 312.5 80 312.5C120.8 312.5 139.2 308.3 139.2 307.3Z" stroke-width="0.96" stroke-opacity="0.95"/>
<path d="M145.5 307.3C145.5 306.2 127.9 303.4 80 303.4C58.6 303.4 54.2 304.5 54.2 307.3C54.2 311.7 58.6 313.5 80 313.5C127.9 313.5 145.5 309.1 145.5 307.3Z" stroke-width="0.97" stroke-opacity="0.95"/>
<path d="M150.2 307.3C150.2 305.8 133.9 303.3 80 303.3C57.5 303.3 52.8 304.4 52.8 307.3C52.8 312.4 57.5 314.3 80 314.3C133.9 314.3 150.2 309.9 150.2 307.3Z" stroke-width="1.08" stroke-opacity="0.95"/>
<path d="M154.9 307.3C154.9 305.4 140.6 303.1 80 303.1C56.2 303.1 51.4 304.2 51.4 307.3C51.4 313.1 56.2 315 80 315C140.6 315 154.9 310.8 154.9 307.3Z" stroke-width="0.69" stroke-opacity="0.85"/>
<path d="M160.1 307.3C160.1 304.9 148.5 303 80 303C54.8 303 49.9 304 49.9 307.3C49.9 313.7 54.8 315.6 80 315.6C148.5 315.6 160.1 311.9 160.1 307.3Z" stroke-width="0.63" stroke-opacity="0.85"/>
<path d="M162.8 307.3C162.8 304.6 153 302.9 80 302.9C54 302.9 49.1 303.8 49.1 307.3C49.1 314.1 54 316 80 316C153 316 162.8 312.5 162.8 307.3Z" stroke-width="0.6" stroke-opacity="0.85"/>
<path d="M165.6 307.3C165.6 304.3 156.3 302.7 80 302.7C52.6 302.7 47.8 303.6 47.8 307.3C47.8 314.7 52.6 316.5 80 316.5C156.3 316.5 165.6 313.3 165.6 307.3Z" stroke-width="0.63" stroke-opacity="0.85"/>
<path d="M168.4 307.3C168.4 304 159.7 302.6 80 302.6C51.2 302.6 46.4 303.4 46.4 307.3C46.4 315.3 51.2 317.1 80 317.1C159.7 317.1 168.4 314.1 168.4 307.3Z" stroke-width="0.58" stroke-opacity="0.85"/>
<path d="M171.1 307.3C171.1 303.7 163.1 302.4 80 302.4C49.9 302.4 45.1 303.2 45.1 307.3C45.1 316 49.9 317.7 80 317.7C163.1 317.7 171.1 314.9 171.1 307.3Z" stroke-width="0.68" stroke-opacity="0.85"/>
<path d="M173.7 307.3C173.7 303.4 166.5 302.3 80 302.3C48.5 302.3 43.8 303 43.8 307.3C43.8 316.6 48.5 318.2 80 318.2C166.5 318.2 173.7 315.8 173.7 307.3Z" stroke-width="0.72" stroke-opacity="0.85"/>
<path d="M177.6 307.3C177.6 302.9 171.8 302.1 80 302.1C46.5 302.1 41.9 302.7 41.9 307.3C41.9 317.6 46.5 319 80 319C171.8 319 177.6 317.2 177.6 307.3Z" stroke-width="0.64" stroke-opacity="0.85"/>
<path d="M180.1 307.3C180.1 302.6 175.3 301.9 80 301.9C45.1 301.9 40.6 302.5 40.6 307.3C40.6 318.2 45.1 319.5 80 319.5C175.3 319.5 180.1 318.1 180.1 307.3Z" stroke-width="0.57" stroke-opacity="0.85"/>
<path d="M97.6 307.3C97.6 307.3 95.4 306.8 80 306.8C76.2 306.8 75.7 307 75.7 307.3C75.7 307.5 76.2 307.7 80 307.7C95.4 307.7 97.6 307.3 97.6 307.3Z" stroke-width="0.32" stroke-opacity="0.5"/>
<path d="M102.6 307.3C102.6 307.3 97.2 306.1 80 306.1C73 306.1 71.8 306.6 71.8 307.3C71.8 307.8 73 308.3 80 308.3C97.2 308.3 102.6 307.3 102.6 307.3Z" stroke-width="0.32" stroke-opacity="0.5"/>
<path d="M107.5 307.3C107.5 307.3 99.1 305.4 80 305.4C69.8 305.4 67.9 306.2 67.9 307.3C67.9 308.2 69.8 308.8 80 308.8C99.1 308.8 107.5 307.3 107.5 307.3Z" stroke-width="0.32" stroke-opacity="0.5"/>
<path d="M112.4 307.3C112.4 307.2 100.9 304.7 80 304.7C66.5 304.7 64 305.7 64 307.3C64 308.5 66.5 309.4 80 309.4C100.9 309.4 112.4 307.4 112.4 307.3Z" stroke-width="0.32" stroke-opacity="0.5"/>
<path d="M92.6 307.3C92.6 307.3 92 307.2 80 307.2C78.2 307.2 78 307.2 78 307.3C78 307.4 78.2 307.4 80 307.4C92 307.4 92.6 307.3 92.6 307.3Z" stroke-width="0.9" stroke-opacity="0.9"/>
<path d="M40.5 301.4H182" stroke-width="0.7" stroke-opacity="0.7"/>
<path d="M182 301.6C184.5 303 182.5 310 184 314C184.6 317 184 319 183.5 320.5" stroke-width="0.8" stroke-opacity="0.85"/>
<path d="M182.6 284V300" stroke-width="0.35" stroke-opacity="0.5"/>
<path d="M184 284V300" stroke-width="0.35" stroke-opacity="0.5"/>
<path d="M279.2 44C279.2 43.9 275.9 43.6 268 43.6C262.6 43.6 260.4 43.9 260.4 44C260.4 44.1 262.6 44.4 268 44.4C275.9 44.4 279.2 44.1 279.2 44Z" stroke-width="1.15" stroke-opacity="0.95"/>
<path d="M289 44C289 43.8 282.9 43.3 268 43.3C257.9 43.3 253.8 43.8 253.8 44C253.8 44.2 257.9 44.8 268 44.8C282.9 44.8 289 44.2 289 44Z" stroke-width="1.09" stroke-opacity="0.95"/>
<path d="M294.8 44C294.8 43.7 287.1 43 268 43C255.2 43 250.1 43.7 250.1 44C250.1 44.4 255.2 45.1 268 45.1C287.1 45.1 294.8 44.4 294.8 44Z" stroke-width="1.02" stroke-opacity="0.95"/>
<path d="M298.5 44C298.5 43.6 289.9 42.8 268 42.8C253.6 42.8 247.9 43.6 247.9 44C247.9 44.5 253.6 45.4 268 45.4C289.9 45.4 298.5 44.5 298.5 44Z" stroke-width="1.06" stroke-opacity="0.95"/>
<path d="M302.4 44C302.4 43.4 292.8 42.5 268 42.5C251.9 42.5 245.6 43.4 245.6 44C245.6 44.6 251.9 45.7 268 45.7C292.8 45.7 302.4 44.6 302.4 44Z" stroke-width="0.96" stroke-opacity="0.95"/>
<path d="M306.7 44C306.7 43.3 296 42.2 268 42.2C250 42.2 243.2 43.3 243.2 44C243.2 44.8 250 46 268 46C296 46 306.7 44.8 306.7 44Z" stroke-width="0.69" stroke-opacity="0.95"/>
<path d="M311.1 44C311.1 43.1 299.4 41.9 268 41.9C248 41.9 240.6 43.1 240.6 44C240.6 45 248 46.3 268 46.3C299.4 46.3 311.1 45 311.1 44Z" stroke-width="0.97" stroke-opacity="0.95"/>
<path d="M314.6 44C314.6 43 302.1 41.7 268 41.7C246.4 41.7 238.5 43 238.5 44C238.5 45.2 246.4 46.6 268 46.6C302.1 46.6 314.6 45.2 314.6 44Z" stroke-width="0.63" stroke-opacity="0.95"/>
<path d="M317.7 44C317.7 42.6 304.8 41.1 268 41.1C244.8 41.1 236.7 42.6 236.7 44C236.7 45.6 244.8 47.3 268 47.3C304.8 47.3 317.7 45.6 317.7 44Z" stroke-width="0.49" stroke-opacity="0.9"/>
<path d="M318.7 44C318.7 42.2 305.9 40.6 268 40.6C244.1 40.6 236 42.2 236 44C236 46 244.1 47.8 268 47.8C305.9 47.8 318.7 46 318.7 44Z" stroke-width="0.75" stroke-opacity="0.9"/>
<path d="M319.8 44C319.8 41.7 307 40.1 268 40.1C243.4 40.1 235.4 41.7 235.4 44C235.4 46.5 243.4 48.4 268 48.4C307 48.4 319.8 46.5 319.8 44Z" stroke-width="0.45" stroke-opacity="0.9"/>
<path d="M321.5 44C321.5 41 308.9 39.3 268 39.3C242.2 39.3 234.3 41 234.3 44C234.3 47.4 242.2 49.3 268 49.3C308.9 49.3 321.5 47.4 321.5 44Z" stroke-width="0.47" stroke-opacity="0.9"/>
<path d="M323 44C323 40.2 310.6 38.6 268 38.6C241.2 38.6 233.3 40.2 233.3 44C233.3 48.3 241.2 50.1 268 50.1C310.6 50.1 323 48.3 323 44Z" stroke-width="0.47" stroke-opacity="0.9"/>
<path d="M323.6 44C323.6 39.8 311.3 38.3 268 38.3C240.7 38.3 233 39.8 233 44C233 48.7 240.7 50.4 268 50.4C311.3 50.4 323.6 48.7 323.6 44Z" stroke-width="0.79" stroke-opacity="0.9"/>
<path d="M326 44C326 39 315.7 37.7 268 37.7C238 37.7 231.4 39 231.4 44C231.4 49.6 238 51.1 268 51.1C315.7 51.1 326 49.6 326 44Z" stroke-width="0.45" stroke-opacity="0.9"/>
<path d="M328.7 44C328.7 38.8 318.7 37.5 268 37.5C236 37.5 229.8 38.8 229.8 44C229.8 49.8 236 51.3 268 51.3C318.7 51.3 328.7 49.8 328.7 44Z" stroke-width="0.39" stroke-opacity="0.9"/>
<path d="M331.9 44C331.9 38.5 322.6 37.3 268 37.3C233.6 37.3 227.7 38.5 227.7 44C227.7 50.2 233.6 51.5 268 51.5C322.6 51.5 331.9 50.2 331.9 44Z" stroke-width="0.69" stroke-opacity="0.9"/>
<path d="M334.7 44C334.7 38.2 325.9 37.1 268 37.1C231.5 37.1 226 38.2 226 44C226 50.5 231.5 51.7 268 51.7C325.9 51.7 334.7 50.5 334.7 44Z" stroke-width="0.43" stroke-opacity="0.9"/>
<path d="M336.6 44C336.6 38.1 328.3 37 268 37C230 37 224.8 38.1 224.8 44C224.8 50.7 230 51.8 268 51.8C328.3 51.8 336.6 50.7 336.6 44Z" stroke-width="0.69" stroke-opacity="0.9"/>
<path d="M339.9 44C339.9 37.7 332.6 36.8 268 36.8C227.3 36.8 222.7 37.7 222.7 44C222.7 51 227.3 52.1 268 52.1C332.6 52.1 339.9 51 339.9 44Z" stroke-width="0.63" stroke-opacity="0.9"/>
<path d="M342.5 44C342.5 37.5 335.9 36.6 268 36.6C225.2 36.6 221.1 37.5 221.1 44C221.1 51.3 225.2 52.3 268 52.3C335.9 52.3 342.5 51.3 342.5 44Z" stroke-width="0.68" stroke-opacity="0.9"/>
<path d="M344.4 44C344.4 37.3 338.5 36.5 268 36.5C223.6 36.5 219.8 37.3 219.8 44C219.8 51.5 223.6 52.4 268 52.4C338.5 52.4 344.4 51.5 344.4 44Z" stroke-width="0.73" stroke-opacity="0.9"/>
<path d="M347.3 44C347.3 37 342.2 36.3 268 36.3C221.3 36.3 218 37 218 44C218 51.8 221.3 52.6 268 52.6C342.2 52.6 347.3 51.8 347.3 44Z" stroke-width="0.59" stroke-opacity="0.9"/>
<path d="M349.5 44C349.5 36.8 345 36.2 268 36.2C219.5 36.2 216.6 36.8 216.6 44C216.6 52.1 219.5 52.8 268 52.8C345 52.8 349.5 52.1 349.5 44Z" stroke-width="0.67" stroke-opacity="0.9"/>
<path d="M353.1 44C353.1 36.4 349.7 35.9 268 35.9C216.5 35.9 214.4 36.4 214.4 44C214.4 52.5 216.5 53 268 53C349.7 53 353.1 52.5 353.1 44Z" stroke-width="0.4" stroke-opacity="0.9"/>
<path d="M355.6 44C355.6 36.2 353 35.8 268 35.8C214.4 35.8 212.8 36.2 212.8 44C212.8 52.8 214.4 53.2 268 53.2C353 53.2 355.6 52.8 355.6 44Z" stroke-width="0.66" stroke-opacity="0.9"/>
<path d="M279.7 61.9C279.7 61.8 276.2 61.5 268 61.5C262.4 61.5 260.1 61.8 260.1 61.9C260.1 62 262.4 62.4 268 62.4C276.2 62.4 279.7 62 279.7 61.9Z" stroke-width="1.07" stroke-opacity="0.95"/>
<path d="M288.7 61.9C288.7 61.7 282.7 61.2 268 61.2C258.1 61.2 254 61.7 254 61.9C254 62.2 258.1 62.7 268 62.7C282.7 62.7 288.7 62.2 288.7 61.9Z" stroke-width="1.02" stroke-opacity="0.95"/>
<path d="M293.9 61.9C293.9 61.6 286.5 61 268 61C255.6 61 250.6 61.6 250.6 61.9C250.6 62.3 255.6 63 268 63C286.5 63 293.9 62.3 293.9 61.9Z" stroke-width="0.93" stroke-opacity="0.95"/>
<path d="M299 61.9C299 61.5 290.2 60.7 268 60.7C253.4 60.7 247.6 61.5 247.6 61.9C247.6 62.4 253.4 63.4 268 63.4C290.2 63.4 299 62.4 299 61.9Z" stroke-width="0.91" stroke-opacity="0.95"/>
<path d="M303.3 61.9C303.3 61.3 293.5 60.4 268 60.4C251.5 60.4 245.1 61.3 245.1 61.9C245.1 62.6 251.5 63.8 268 63.8C293.5 63.8 303.3 62.6 303.3 61.9Z" stroke-width="1.01" stroke-opacity="0.95"/>
<path d="M306 61.9C306 61.3 295.5 60.3 268 60.3C250.3 60.3 243.6 61.3 243.6 61.9C243.6 62.7 250.3 64 268 64C295.5 64 306 62.7 306 61.9Z" stroke-width="1.15" stroke-opacity="0.95"/>
<path d="M310.4 61.9C310.4 61.1 298.9 60 268 60C248.3 60 241 61.1 241 61.9C241 62.9 248.3 64.3 268 64.3C298.9 64.3 310.4 62.9 310.4 61.9Z" stroke-width="0.72" stroke-opacity="0.95"/>
<path d="M314.9 61.9C314.9 60.9 302.3 59.7 268 59.7C246.3 59.7 238.4 60.9 238.4 61.9C238.4 63.2 246.3 64.7 268 64.7C302.3 64.7 314.9 63.2 314.9 61.9Z" stroke-width="0.69" stroke-opacity="0.95"/>
<path d="M317.8 61.9C317.8 60.5 304.9 59.1 268 59.1C244.7 59.1 236.6 60.5 236.6 61.9C236.6 63.7 244.7 65.5 268 65.5C304.9 65.5 317.8 63.7 317.8 61.9Z" stroke-width="0.74" stroke-opacity="0.9"/>
<path d="M318.5 61.9C318.5 60.3 305.6 58.8 268 58.8C244.3 58.8 236.2 60.3 236.2 61.9C236.2 64 244.3 65.8 268 65.8C305.6 65.8 318.5 64 318.5 61.9Z" stroke-width="0.8" stroke-opacity="0.9"/>
<path d="M319.7 61.9C319.7 59.8 307 58.3 268 58.3C243.4 58.3 235.4 59.8 235.4 61.9C235.4 64.6 243.4 66.5 268 66.5C307 66.5 319.7 64.6 319.7 61.9Z" stroke-width="0.64" stroke-opacity="0.9"/>
<path d="M321.1 61.9C321.1 59.2 308.5 57.6 268 57.6C242.5 57.6 234.5 59.2 234.5 61.9C234.5 65.3 242.5 67.3 268 67.3C308.5 67.3 321.1 65.3 321.1 61.9Z" stroke-width="0.61" stroke-opacity="0.9"/>
<path d="M322.9 61.9C322.9 58.3 310.5 56.9 268 56.9C241.2 56.9 233.4 58.3 233.4 61.9C233.4 66.4 241.2 68.3 268 68.3C310.5 68.3 322.9 66.4 322.9 61.9Z" stroke-width="0.72" stroke-opacity="0.9"/>
<path d="M324.4 61.9C324.4 57.5 313.2 56.2 268 56.2C239.5 56.2 232.5 57.5 232.5 61.9C232.5 67.5 239.5 69.1 268 69.1C313.2 69.1 324.4 67.5 324.4 61.9Z" stroke-width="0.51" stroke-opacity="0.9"/>
<path d="M326 61.9C326 57.2 315.6 56 268 56C238 56 231.5 57.2 231.5 61.9C231.5 67.8 238 69.4 268 69.4C315.6 69.4 326 67.8 326 61.9Z" stroke-width="0.48" stroke-opacity="0.9"/>
<path d="M328.6 61.9C328.6 57 318.6 55.8 268 55.8C236.1 55.8 229.8 57 229.8 61.9C229.8 68.1 236.1 69.6 268 69.6C318.6 69.6 328.6 68.1 328.6 61.9Z" stroke-width="0.46" stroke-opacity="0.9"/>
<path d="M331.3 61.9C331.3 56.8 321.8 55.7 268 55.7C234.1 55.7 228.1 56.8 228.1 61.9C228.1 68.4 234.1 69.8 268 69.8C321.8 69.8 331.3 68.4 331.3 61.9Z" stroke-width="0.59" stroke-opacity="0.9"/>
<path d="M333.9 61.9C333.9 56.6 325 55.5 268 55.5C232.1 55.5 226.5 56.6 226.5 61.9C226.5 68.7 232.1 70 268 70C325 70 333.9 68.7 333.9 61.9Z" stroke-width="0.5" stroke-opacity="0.9"/>
<path d="M336.6 61.9C336.6 56.3 328.4 55.3 268 55.3C229.9 55.3 224.7 56.3 224.7 61.9C224.7 69 229.9 70.2 268 70.2C328.4 70.2 336.6 69 336.6 61.9Z" stroke-width="0.47" stroke-opacity="0.9"/>
<path d="M338.8 61.9C338.8 56.1 331.2 55.2 268 55.2C228.2 55.2 223.3 56.1 223.3 61.9C223.3 69.2 228.2 70.4 268 70.4C331.2 70.4 338.8 69.2 338.8 61.9Z" stroke-width="0.63" stroke-opacity="0.9"/>
<path d="M342.1 61.9C342.1 55.8 335.4 55 268 55C225.5 55 221.3 55.8 221.3 61.9C221.3 69.6 225.5 70.7 268 70.7C335.4 70.7 342.1 69.6 342.1 61.9Z" stroke-width="0.73" stroke-opacity="0.9"/>
<path d="M345.4 61.9C345.4 55.5 339.6 54.8 268 54.8C222.9 54.8 219.2 55.5 219.2 61.9C219.2 70 222.9 70.9 268 70.9C339.6 70.9 345.4 70 345.4 61.9Z" stroke-width="0.49" stroke-opacity="0.9"/>
<path d="M347.3 61.9C347.3 55.3 342.1 54.7 268 54.7C221.3 54.7 218 55.3 218 61.9C218 70.2 221.3 71.1 268 71.1C342.1 71.1 347.3 70.2 347.3 61.9Z" stroke-width="0.64" stroke-opacity="0.9"/>
<path d="M350.4 61.9C350.4 55 346.1 54.5 268 54.5C218.8 54.5 216.1 55 216.1 61.9C216.1 70.6 218.8 71.3 268 71.3C346.1 71.3 350.4 70.6 350.4 61.9Z" stroke-width="0.53" stroke-opacity="0.9"/>
<path d="M352.3 61.9C352.3 54.9 348.5 54.4 268 54.4C217.2 54.4 214.9 54.9 214.9 61.9C214.9 70.8 217.2 71.5 268 71.5C348.5 71.5 352.3 70.8 352.3 61.9Z" stroke-width="0.69" stroke-opacity="0.9"/>
<path d="M355.6 61.9C355.6 54.5 353 54.2 268 54.2C214.4 54.2 212.8 54.5 212.8 61.9C212.8 71.3 214.4 71.7 268 71.7C353 71.7 355.6 71.3 355.6 61.9Z" stroke-width="0.59" stroke-opacity="0.9"/>
<path d="M213 53.7H356" stroke-width="1.5" stroke-opacity="0.85"/>
<path d="M308.9 116.8C308.9 116.6 307.8 116.3 305.2 116.3C301.7 116.3 300.3 116.6 300.3 116.8C300.3 116.9 301.7 117.2 305.2 117.2C307.8 117.2 308.9 116.9 308.9 116.8Z" stroke-width="1" stroke-opacity="0.95"/>
<path d="M311.7 116.8C311.7 116.5 309.8 115.9 305.2 115.9C299 115.9 296.5 116.5 296.5 116.8C296.5 117 299 117.6 305.2 117.6C309.8 117.6 311.7 117 311.7 116.8Z" stroke-width="0.85" stroke-opacity="0.95"/>
<path d="M314 116.8C314 116.4 311.5 115.5 305.2 115.5C296.7 115.5 293.3 116.4 293.3 116.8C293.3 117.2 296.7 117.9 305.2 117.9C311.5 117.9 314 117.2 314 116.8Z" stroke-width="0.85" stroke-opacity="0.95"/>
<path d="M316 116.8C316 116.2 313 115 305.2 115C294.5 115 290.3 116.2 290.3 116.8C290.3 117.3 294.5 118.3 305.2 118.3C313 118.3 316 117.3 316 116.8Z" stroke-width="1.17" stroke-opacity="0.95"/>
<path d="M317.7 116.8C317.7 116 314.2 114.6 305.2 114.6C292.7 114.6 287.8 116 287.8 116.8C287.8 117.5 292.7 118.6 305.2 118.6C314.2 118.6 317.7 117.5 317.7 116.8Z" stroke-width="1.14" stroke-opacity="0.95"/>
<path d="M319.5 116.8C319.5 115.7 315.5 114.2 305.2 114.2C290.7 114.2 285.2 115.7 285.2 116.8C285.2 117.7 290.7 119 305.2 119C315.5 119 319.5 117.7 319.5 116.8Z" stroke-width="1.06" stroke-opacity="0.9"/>
<path d="M322.2 116.8C322.2 115.3 317.7 113.5 305.2 113.5C287.5 113.5 281 115.3 281 116.8C281 118 287.5 119.5 305.2 119.5C317.7 119.5 322.2 118 322.2 116.8Z" stroke-width="1" stroke-opacity="0.9"/>
<path d="M324.7 116.8C324.7 114.9 319.6 112.9 305.2 112.9C284.7 112.9 277.4 114.9 277.4 116.8C277.4 118.3 284.7 120 305.2 120C319.6 120 324.7 118.3 324.7 116.8Z" stroke-width="0.69" stroke-opacity="0.9"/>
<path d="M327.8 116.8C327.8 114.4 322 112.1 305.2 112.1C281.1 112.1 272.8 114.4 272.8 116.8C272.8 118.8 281.1 120.6 305.2 120.6C322 120.6 327.8 118.8 327.8 116.8Z" stroke-width="0.66" stroke-opacity="0.9"/>
<path d="M329.1 116.8C329.1 114.1 323.1 111.8 305.2 111.8C279.3 111.8 270.5 114.1 270.5 116.8C270.5 119 279.3 120.9 305.2 120.9C323.1 120.9 329.1 119 329.1 116.8Z" stroke-width="0.5" stroke-opacity="0.85"/>
<path d="M333.2 116.8C333.2 113.2 326.4 110.8 305.2 110.8C272.6 110.8 262.1 113.2 262.1 116.8C262.1 119.7 272.6 121.7 305.2 121.7C326.4 121.7 333.2 119.7 333.2 116.8Z" stroke-width="0.48" stroke-opacity="0.85"/>
<path d="M334.4 116.8C334.4 112.9 327.4 110.5 305.2 110.5C270.5 110.5 259.5 112.9 259.5 116.8C259.5 120 270.5 122 305.2 122C327.4 122 334.4 120 334.4 116.8Z" stroke-width="0.67" stroke-opacity="0.85"/>
<path d="M337 116.8C337 112.2 329.5 109.8 305.2 109.8C266.1 109.8 254.1 112.2 254.1 116.8C254.1 120.5 266.1 122.5 305.2 122.5C329.5 122.5 337 120.5 337 116.8Z" stroke-width="0.73" stroke-opacity="0.85"/>
<path d="M339 116.8C339 111.7 331.3 109.3 305.2 109.3C262.6 109.3 249.9 111.7 249.9 116.8C249.9 121 262.6 122.9 305.2 122.9C331.3 122.9 339 121 339 116.8Z" stroke-width="0.75" stroke-opacity="0.85"/>
<path d="M342.1 116.8C342.1 110.8 333.9 108.5 305.2 108.5C257.2 108.5 243.5 110.8 243.5 116.8C243.5 121.8 257.2 123.6 305.2 123.6C333.9 123.6 342.1 121.8 342.1 116.8Z" stroke-width="0.5" stroke-opacity="0.85"/>
<path d="M344.4 116.8C344.4 110 336.5 107.9 305.2 107.9C252.2 107.9 238.8 110 238.8 116.8C238.8 122.4 252.2 124.1 305.2 124.1C336.5 124.1 344.4 122.4 344.4 116.8Z" stroke-width="0.73" stroke-opacity="0.85"/>
<path d="M346.1 116.8C346.1 109.4 338.9 107.5 305.2 107.5C247.4 107.5 235.1 109.4 235.1 116.8C235.1 122.8 247.4 124.4 305.2 124.4C338.9 124.4 346.1 122.8 346.1 116.8Z" stroke-width="0.52" stroke-opacity="0.85"/>
<path d="M348.3 116.8C348.3 108.7 342 107 305.2 107C241.4 107 230.6 108.7 230.6 116.8C230.6 123.5 241.4 124.9 305.2 124.9C342 124.9 348.3 123.5 348.3 116.8Z" stroke-width="0.57" stroke-opacity="0.85"/>
<path d="M351.1 116.8C351.1 107.7 346.3 106.2 305.2 106.2C233.1 106.2 224.8 107.7 224.8 116.8C224.8 124.3 233.1 125.5 305.2 125.5C346.3 125.5 351.1 124.3 351.1 116.8Z" stroke-width="0.68" stroke-opacity="0.85"/>
<path d="M352.7 116.8C352.7 107 348.9 105.8 305.2 105.8C228 105.8 221.3 107 221.3 116.8C221.3 124.8 228 125.8 305.2 125.8C348.9 125.8 352.7 124.8 352.7 116.8Z" stroke-width="0.45" stroke-opacity="0.85"/>
<path d="M353.8 116.8C353.8 106.6 350.6 105.5 305.2 105.5C224.7 105.5 219 106.6 219 116.8C219 125.2 224.7 126 305.2 126C350.6 126 353.8 125.2 353.8 116.8Z" stroke-width="0.46" stroke-opacity="0.85"/>
<path d="M355.5 116.8C355.5 105.9 353.1 105.1 305.2 105.1C219.7 105.1 215.5 105.9 215.5 116.8C215.5 125.7 219.7 126.4 305.2 126.4C353.1 126.4 355.5 125.7 355.5 116.8Z" stroke-width="0.75" stroke-opacity="0.85"/>
<path d="M357.1 116.8C357.1 105.3 355.6 104.7 305.2 104.7C214.9 104.7 212.1 105.3 212.1 116.8C212.1 126.3 214.9 126.7 305.2 126.7C355.6 126.7 357.1 126.3 357.1 116.8Z" stroke-width="0.53" stroke-opacity="0.85"/>
<path d="M309 139.1C309 139 307.9 138.6 305.2 138.6C301.6 138.6 300.1 139 300.1 139.1C300.1 139.2 301.6 139.6 305.2 139.6C307.9 139.6 309 139.2 309 139.1Z" stroke-width="0.89" stroke-opacity="0.95"/>
<path d="M312.1 139.1C312.1 138.8 310.1 138.2 305.2 138.2C298.6 138.2 295.9 138.8 295.9 139.1C295.9 139.4 298.6 140.1 305.2 140.1C310.1 140.1 312.1 139.4 312.1 139.1Z" stroke-width="1.14" stroke-opacity="0.95"/>
<path d="M314.4 139.1C314.4 138.7 311.8 137.8 305.2 137.8C296.2 137.8 292.6 138.7 292.6 139.1C292.6 139.6 296.2 140.5 305.2 140.5C311.8 140.5 314.4 139.6 314.4 139.1Z" stroke-width="1.13" stroke-opacity="0.95"/>
<path d="M315.7 139.1C315.7 138.6 312.7 137.6 305.2 137.6C294.9 137.6 290.8 138.6 290.8 139.1C290.8 139.7 294.9 140.8 305.2 140.8C312.7 140.8 315.7 139.7 315.7 139.1Z" stroke-width="1.22" stroke-opacity="0.95"/>
<path d="M317.7 139.1C317.7 138.4 314.2 137.1 305.2 137.1C292.7 137.1 287.9 138.4 287.9 139.1C287.9 139.9 292.7 141.2 305.2 141.2C314.2 141.2 317.7 139.9 317.7 139.1Z" stroke-width="0.87" stroke-opacity="0.95"/>
<path d="M319.8 139.1C319.8 138.1 315.8 136.7 305.2 136.7C290.3 136.7 284.7 138.1 284.7 139.1C284.7 140.2 290.3 141.7 305.2 141.7C315.8 141.7 319.8 140.2 319.8 139.1Z" stroke-width="0.95" stroke-opacity="0.9"/>
<path d="M322.4 139.1C322.4 137.8 317.8 136.1 305.2 136.1C287.4 136.1 280.8 137.8 280.8 139.1C280.8 140.5 287.4 142.3 305.2 142.3C317.8 142.3 322.4 140.5 322.4 139.1Z" stroke-width="1.06" stroke-opacity="0.9"/>
<path d="M324.6 139.1C324.6 137.5 319.5 135.7 305.2 135.7C284.9 135.7 277.6 137.5 277.6 139.1C277.6 140.9 284.9 142.8 305.2 142.8C319.5 142.8 324.6 140.9 324.6 139.1Z" stroke-width="0.91" stroke-opacity="0.9"/>
<path d="M327.6 139.1C327.6 137 321.8 135 305.2 135C281.4 135 273.1 137 273.1 139.1C273.1 141.4 281.4 143.5 305.2 143.5C321.8 143.5 327.6 141.4 327.6 139.1Z" stroke-width="0.84" stroke-opacity="0.9"/>
<path d="M330.8 139.1C330.8 136.4 324.4 134.3 305.2 134.3C276.5 134.3 267 136.4 267 139.1C267 142 276.5 144.3 305.2 144.3C324.4 144.3 330.8 142 330.8 139.1Z" stroke-width="0.45" stroke-opacity="0.85"/>
<path d="M332 139.1C332 136.2 325.4 134.1 305.2 134.1C274.7 134.1 264.7 136.2 264.7 139.1C264.7 142.3 274.7 144.6 305.2 144.6C325.4 144.6 332 142.3 332 139.1Z" stroke-width="0.59" stroke-opacity="0.85"/>
<path d="M334.6 139.1C334.6 135.6 327.5 133.5 305.2 133.5C270.2 133.5 259.2 135.6 259.2 139.1C259.2 142.9 270.2 145.2 305.2 145.2C327.5 145.2 334.6 142.9 334.6 139.1Z" stroke-width="0.54" stroke-opacity="0.85"/>
<path d="M336 139.1C336 135.3 328.7 133.1 305.2 133.1C267.8 133.1 256.2 135.3 256.2 139.1C256.2 143.2 267.8 145.6 305.2 145.6C328.7 145.6 336 143.2 336 139.1Z" stroke-width="0.68" stroke-opacity="0.85"/>
<path d="M338.6 139.1C338.6 134.7 330.9 132.6 305.2 132.6C263.3 132.6 250.7 134.7 250.7 139.1C250.7 143.9 263.3 146.2 305.2 146.2C330.9 146.2 338.6 143.9 338.6 139.1Z" stroke-width="0.66" stroke-opacity="0.85"/>
<path d="M341.7 139.1C341.7 133.8 333.6 131.9 305.2 131.9C257.9 131.9 244.2 133.8 244.2 139.1C244.2 144.8 257.9 147 305.2 147C333.6 147 341.7 144.8 341.7 139.1Z" stroke-width="0.62" stroke-opacity="0.85"/>
<path d="M342.9 139.1C342.9 133.5 334.6 131.6 305.2 131.6C255.8 131.6 241.8 133.5 241.8 139.1C241.8 145.1 255.8 147.2 305.2 147.2C334.6 147.2 342.9 145.1 342.9 139.1Z" stroke-width="0.47" stroke-opacity="0.85"/>
<path d="M346.8 139.1C346.8 132.4 339.9 130.7 305.2 130.7C245.6 130.7 233.7 132.4 233.7 139.1C233.7 146.4 245.6 148.2 305.2 148.2C339.9 148.2 346.8 146.4 346.8 139.1Z" stroke-width="0.65" stroke-opacity="0.85"/>
<path d="M349.1 139.1C349.1 131.6 343.3 130.2 305.2 130.2C238.9 130.2 228.8 131.6 228.8 139.1C228.8 147.2 238.9 148.8 305.2 148.8C343.3 148.8 349.1 147.2 349.1 139.1Z" stroke-width="0.64" stroke-opacity="0.85"/>
<path d="M349.8 139.1C349.8 131.4 344.3 130 305.2 130C237 130 227.5 131.4 227.5 139.1C227.5 147.4 237 148.9 305.2 148.9C344.3 148.9 349.8 147.4 349.8 139.1Z" stroke-width="0.47" stroke-opacity="0.85"/>
<path d="M352.8 139.1C352.8 130.4 349 129.4 305.2 129.4C227.8 129.4 221.2 130.4 221.2 139.1C221.2 148.5 227.8 149.6 305.2 149.6C349 149.6 352.8 148.5 352.8 139.1Z" stroke-width="0.77" stroke-opacity="0.85"/>
<path d="M353.8 139.1C353.8 130.1 350.5 129.1 305.2 129.1C224.8 129.1 219 130.1 219 139.1C219 148.9 224.8 149.9 305.2 149.9C350.5 149.9 353.8 148.9 353.8 139.1Z" stroke-width="0.68" stroke-opacity="0.85"/>
<path d="M355.5 139.1C355.5 129.5 353.1 128.7 305.2 128.7C219.7 128.7 215.4 129.5 215.4 139.1C215.4 149.6 219.7 150.3 305.2 150.3C353.1 150.3 355.5 149.6 355.5 139.1Z" stroke-width="0.47" stroke-opacity="0.85"/>
<path d="M357 139.1C357 128.9 355.4 128.4 305.2 128.4C215.3 128.4 212.4 128.9 212.4 139.1C212.4 150.1 215.3 150.7 305.2 150.7C355.4 150.7 357 150.1 357 139.1Z" stroke-width="0.78" stroke-opacity="0.85"/>
<path d="M211 127.5H358" stroke-width="1.3" stroke-opacity="0.85"/>
<path d="M325.4 199.5C325.4 198.6 323.6 198 321.3 198C319.2 198 317.4 198.7 317.4 199.5C317.4 200.3 319.2 201 321.3 201C323.6 201 325.4 200.4 325.4 199.5Z" stroke-width="0.33" stroke-opacity="0.7"/>
<path d="M327 199.5C327 198.3 324.6 197.4 321.3 197.4C318.3 197.4 315.9 198.4 315.9 199.5C315.9 200.6 318.3 201.6 321.3 201.6C324.6 201.6 327 200.7 327 199.5Z" stroke-width="0.41" stroke-opacity="0.7"/>
<path d="M328.6 199.5C328.6 197.9 325.6 196.8 321.3 196.8C317.5 196.8 314.3 198.1 314.3 199.5C314.3 200.9 317.5 202.2 321.3 202.2C325.6 202.2 328.6 201.1 328.6 199.5Z" stroke-width="0.36" stroke-opacity="0.7"/>
<path d="M331.4 199.5C331.4 196.8 327.5 195.3 321.3 195.3C315.5 195.3 310.8 197.4 310.8 199.5C310.8 201.6 315.5 203.7 321.3 203.7C327.5 203.7 331.4 202.2 331.4 199.5Z" stroke-width="0.4" stroke-opacity="0.5"/>
<path d="M333.4 199.5C333.4 196 328.9 194.1 321.3 194.1C314 194.1 307.9 196.8 307.9 199.5C307.9 202.2 314 204.8 321.3 204.8C328.9 204.8 333.4 203 333.4 199.5Z" stroke-width="0.34" stroke-opacity="0.5"/>
<path d="M335.6 199.5C335.6 195 330.5 193 321.3 193C312.4 193 305 196.3 305 199.5C305 202.7 312.4 206.1 321.3 206.1C330.5 206.1 335.6 204 335.6 199.5Z" stroke-width="0.47" stroke-opacity="0.75"/>
<path d="M337.5 199.5C337.5 194.2 332 192.1 321.3 192.1C311 192.1 302.7 196.1 302.7 199.5C302.7 203 311 207.2 321.3 207.2C332 207.2 337.5 204.9 337.5 199.5Z" stroke-width="0.49" stroke-opacity="0.75"/>
<path d="M339.4 199.5C339.4 193.4 333.5 191.1 321.3 191.1C309.7 191.1 300.2 195.9 300.2 199.5C300.2 203.3 309.7 208.2 321.3 208.2C333.5 208.2 339.4 205.9 339.4 199.5Z" stroke-width="0.52" stroke-opacity="0.75"/>
<path d="M341.4 199.5C341.4 192.5 335.1 190.2 321.3 190.2C308.4 190.2 297.8 195.7 297.8 199.5C297.8 203.5 308.4 209.3 321.3 209.3C335.1 209.3 341.4 206.9 341.4 199.5Z" stroke-width="0.57" stroke-opacity="0.75"/>
<path d="M343.4 199.5C343.4 191.5 336.8 189.2 321.3 189.2C307 189.2 295.3 195.6 295.3 199.5C295.3 203.6 307 210.4 321.3 210.4C336.8 210.4 343.4 208 343.4 199.5Z" stroke-width="0.48" stroke-opacity="0.75"/>
<path d="M345.6 199.5C345.6 190.4 338.8 188.1 321.3 188.1C305.4 188.1 292.5 195.5 292.5 199.5C292.5 203.8 305.4 211.7 321.3 211.7C338.8 211.7 345.6 209.2 345.6 199.5Z" stroke-width="1" stroke-opacity="0.85"/>
<path d="M346.5 199.5C346.5 189.6 340 187.4 321.3 187.4C303.2 187.4 287.3 195.3 287.3 199.5C287.3 203.7 303.2 211.8 321.3 211.8C340 211.8 346.5 209.5 346.5 199.5Z" stroke-width="0.36" stroke-opacity="0.65"/>
<path d="M347.3 199.5C347.3 188.8 341.2 186.6 321.3 186.6C301.1 186.6 282.3 195.1 282.3 199.5C282.3 203.7 301.1 212 321.3 212C341.2 212 347.3 209.9 347.3 199.5Z" stroke-width="0.39" stroke-opacity="0.65"/>
<path d="M348 199.5C348 188.1 342.2 186 321.3 186C299.4 186 278 195 278 199.5C278 203.7 299.4 212.1 321.3 212.1C342.2 212.1 348 210.1 348 199.5Z" stroke-width="0.35" stroke-opacity="0.65"/>
<path d="M348.9 199.5C348.9 187.2 343.6 185.2 321.3 185.2C297.5 185.2 272.5 194.8 272.5 199.5C272.5 203.7 297.5 212.3 321.3 212.3C343.6 212.3 348.9 210.5 348.9 199.5Z" stroke-width="0.36" stroke-opacity="0.65"/>
<path d="M349.6 199.5C349.6 186.6 344.6 184.6 321.3 184.6C296.3 184.6 268.7 194.7 268.7 199.5C268.7 203.7 296.3 212.4 321.3 212.4C344.6 212.4 349.6 210.7 349.6 199.5Z" stroke-width="0.48" stroke-opacity="0.65"/>
<path d="M350.3 199.5C350.3 185.8 345.8 183.9 321.3 183.9C294.9 183.9 264 194.6 264 199.5C264 203.6 294.9 212.6 321.3 212.6C345.8 212.6 350.3 211 350.3 199.5Z" stroke-width="0.47" stroke-opacity="0.65"/>
<path d="M351.2 199.5C351.2 184.8 347.2 183.1 321.3 183.1C293.5 183.1 258.7 194.4 258.7 199.5C258.7 203.6 293.5 212.7 321.3 212.7C347.2 212.7 351.2 211.4 351.2 199.5Z" stroke-width="0.37" stroke-opacity="0.65"/>
<path d="M352.3 199.5C352.3 183.7 349 182.2 321.3 182.2C292.1 182.2 252.4 194.3 252.4 199.5C252.4 203.6 292.1 213 321.3 213C349 213 352.3 211.8 352.3 199.5Z" stroke-width="0.37" stroke-opacity="0.65"/>
<path d="M324.5 229.1C324.5 228.4 323.1 227.9 321.3 227.9C319.7 227.9 318.4 228.4 318.4 229.1C318.4 229.8 319.7 230.4 321.3 230.4C323.1 230.4 324.5 229.8 324.5 229.1Z" stroke-width="0.5" stroke-opacity="0.8"/>
<path d="M325.7 229.1C325.7 228.1 323.9 227.4 321.3 227.4C319.1 227.4 317.3 228.2 317.3 229.1C317.3 230.1 319.1 230.9 321.3 230.9C323.9 230.9 325.7 230.2 325.7 229.1Z" stroke-width="0.42" stroke-opacity="0.8"/>
<path d="M327 229.1C327 227.8 324.7 226.9 321.3 226.9C318.4 226.9 316.1 227.9 316.1 229.1C316.1 230.3 318.4 231.4 321.3 231.4C324.7 231.4 327 230.5 327 229.1Z" stroke-width="0.53" stroke-opacity="0.8"/>
<path d="M330.3 229.1C330.3 226.6 326.8 225.2 321.3 225.2C315.4 225.2 310.6 227.1 310.6 229.1C310.6 231.3 315.4 233.3 321.3 233.3C326.8 233.3 330.3 231.8 330.3 229.1Z" stroke-width="0.81" stroke-opacity="0.9"/>
<path d="M331.5 229.1C331.5 226.1 327.7 224.5 321.3 224.5C314.2 224.5 308.3 226.8 308.3 229.1C308.3 231.6 314.2 234.1 321.3 234.1C327.7 234.1 331.5 232.4 331.5 229.1Z" stroke-width="0.86" stroke-opacity="0.9"/>
<path d="M332.6 229.1C332.6 225.6 328.4 223.9 321.3 223.9C313.1 223.9 306.4 226.5 306.4 229.1C306.4 231.9 313.1 234.7 321.3 234.7C328.4 234.7 332.6 232.9 332.6 229.1Z" stroke-width="0.9" stroke-opacity="0.9"/>
<path d="M334.1 229.1C334.1 225 329.5 223.1 321.3 223.1C311.6 223.1 303.6 226.2 303.6 229.1C303.6 232.3 311.6 235.6 321.3 235.6C329.5 235.6 334.1 233.6 334.1 229.1Z" stroke-width="0.64" stroke-opacity="0.9"/>
<path d="M335.3 229.1C335.3 224.4 330.5 222.4 321.3 222.4C310.3 222.4 301.3 226 301.3 229.1C301.3 232.5 310.3 236.4 321.3 236.4C330.5 236.4 335.3 234.2 335.3 229.1Z" stroke-width="0.92" stroke-opacity="0.9"/>
<path d="M336.9 229.1C336.9 223.7 331.7 221.6 321.3 221.6C308.7 221.6 298.4 225.7 298.4 229.1C298.4 232.8 308.7 237.3 321.3 237.3C331.7 237.3 336.9 235 336.9 229.1Z" stroke-width="0.88" stroke-opacity="0.9"/>
<path d="M338.3 229.1C338.3 223 332.8 220.8 321.3 220.8C307.3 220.8 295.9 225.5 295.9 229.1C295.9 233 307.3 238.2 321.3 238.2C332.8 238.2 338.3 235.8 338.3 229.1Z" stroke-width="0.82" stroke-opacity="0.9"/>
<path d="M339.4 229.1C339.4 222.4 333.7 220.2 321.3 220.2C306.2 220.2 293.9 225.4 293.9 229.1C293.9 233.1 306.2 238.9 321.3 238.9C333.7 238.9 339.4 236.4 339.4 229.1Z" stroke-width="0.83" stroke-opacity="0.9"/>
<path d="M340.8 229.1C340.8 221.7 334.9 219.4 321.3 219.4C304.8 219.4 291.3 225.3 291.3 229.1C291.3 233.3 304.8 239.7 321.3 239.7C334.9 239.7 340.8 237.2 340.8 229.1Z" stroke-width="0.81" stroke-opacity="0.9"/>
<path d="M342.5 229.1C342.5 220.8 336.3 218.5 321.3 218.5C303.1 218.5 288.1 225.2 288.1 229.1C288.1 233.4 303.1 240.8 321.3 240.8C336.3 240.8 342.5 238.2 342.5 229.1Z" stroke-width="0.71" stroke-opacity="0.9"/>
<path d="M343.4 229.1C343.4 220.3 337.1 218 321.3 218C302.2 218 286.6 225.1 286.6 229.1C286.6 233.5 302.2 241.3 321.3 241.3C337.1 241.3 343.4 238.8 343.4 229.1Z" stroke-width="0.83" stroke-opacity="0.9"/>
<path d="M345.2 229.1C345.2 219.3 338.9 217 321.3 217C300.8 217 283.1 224.9 283.1 229.1C283.1 233.7 300.8 242.4 321.3 242.4C338.9 242.4 345.2 239.9 345.2 229.1Z" stroke-width="0.65" stroke-opacity="0.9"/>
<path d="M346.8 229.1C346.8 218.7 340.9 216.5 321.3 216.5C298.5 216.5 277.1 224.9 277.1 229.1C277.1 233.9 298.5 243.5 321.3 243.5C340.9 243.5 346.8 241 346.8 229.1Z" stroke-width="0.46" stroke-opacity="0.7"/>
<path d="M347.9 229.1C347.9 218.3 342.3 216.4 321.3 216.4C296.9 216.4 272.4 224.9 272.4 229.1C272.4 234.1 296.9 244.1 321.3 244.1C342.3 244.1 347.9 241.8 347.9 229.1Z" stroke-width="0.49" stroke-opacity="0.7"/>
<path d="M348.5 229.1C348.5 218.1 343.2 216.3 321.3 216.3C295.9 216.3 269.5 224.9 269.5 229.1C269.5 234.2 295.9 244.6 321.3 244.6C343.2 244.6 348.5 242.3 348.5 229.1Z" stroke-width="0.45" stroke-opacity="0.7"/>
<path d="M349.6 229.1C349.6 217.8 344.7 216.1 321.3 216.1C294.4 216.1 264.5 224.9 264.5 229.1C264.5 234.3 294.4 245.3 321.3 245.3C344.7 245.3 349.6 243.2 349.6 229.1Z" stroke-width="0.47" stroke-opacity="0.7"/>
<path d="M350.6 229.1C350.6 217.4 346.1 215.9 321.3 215.9C293.2 215.9 260 225 260 229.1C260 234.4 293.2 245.9 321.3 245.9C346.1 245.9 350.6 244 350.6 229.1Z" stroke-width="0.55" stroke-opacity="0.7"/>
<path d="M351.6 229.1C351.6 217.1 347.7 215.7 321.3 215.7C292.2 215.7 255.4 225 255.4 229.1C255.4 234.5 292.2 246.6 321.3 246.6C347.7 246.6 351.6 244.8 351.6 229.1Z" stroke-width="0.54" stroke-opacity="0.7"/>
<path d="M352.8 229.1C352.8 216.7 349.5 215.5 321.3 215.5C291.1 215.5 250 225 250 229.1C250 234.6 291.1 247.4 321.3 247.4C349.5 247.4 352.8 245.8 352.8 229.1Z" stroke-width="0.39" stroke-opacity="0.7"/>
<path d="M285 214.2H358" stroke-width="0.7" stroke-opacity="0.75"/>
<path d="M211 214.2H287" stroke-width="0.4" stroke-opacity="0.55"/>
<path d="M214 213.3C214 186.3 220 178.3 254 178.3S356.3 176.3 356.3 213.3" stroke-width="0.42" stroke-opacity="0.62"/>
<path d="M218 213.3C218 188.5 224 180.5 258 180.5S354.6 179.5 354.6 213.3" stroke-width="0.42" stroke-opacity="0.62"/>
<path d="M224 213.3C224 191 230 183 264 183S352.9 183 352.9 213.3" stroke-width="0.42" stroke-opacity="0.62"/>
<path d="M231 213.3C231 194 237 186 271 186S351.2 187 351.2 213.3" stroke-width="0.42" stroke-opacity="0.62"/>
<path d="M240 213.3C240 197.5 246 189.5 280 189.5S349.5 191.5 349.5 213.3" stroke-width="0.42" stroke-opacity="0.62"/>
<path d="M212 215C212 238.5 232 247.5 287 250.5S356.5 252.5 356.5 215" stroke-width="0.42" stroke-opacity="0.62"/>
<path d="M214.5 215C214.5 237 234.5 246 289.5 249S354.9 250 354.9 215" stroke-width="0.42" stroke-opacity="0.62"/>
<path d="M218 215C218 235.3 238 244.3 293 247.3S353.3 247.3 353.3 215" stroke-width="0.42" stroke-opacity="0.62"/>
<path d="M224 215C224 233 244 242 299 245S351.7 244 351.7 215" stroke-width="0.42" stroke-opacity="0.62"/>
<path d="M232 215C232 230 252 239 307 242S350.1 240 350.1 215" stroke-width="0.42" stroke-opacity="0.62"/>
<path d="M337.4 292.9C337.4 292.5 335.9 292.2 334 292.2C331.2 292.2 328.8 292.7 328.8 292.9C328.8 293.1 331.2 293.6 334 293.6C335.9 293.6 337.4 293.3 337.4 292.9Z" stroke-width="1.17" stroke-opacity="0.95"/>
<path d="M338.4 292.9C338.4 292.3 336.5 291.9 334 291.9C330.1 291.9 326.5 292.7 326.5 292.9C326.5 293.1 330.1 293.9 334 293.9C336.5 293.9 338.4 293.5 338.4 292.9Z" stroke-width="0.98" stroke-opacity="0.95"/>
<path d="M339.2 292.9C339.2 292.1 337 291.6 334 291.6C329.1 291.6 324.6 292.7 324.6 292.9C324.6 293.1 329.1 294.2 334 294.2C337 294.2 339.2 293.7 339.2 292.9Z" stroke-width="0.94" stroke-opacity="0.95"/>
<path d="M340.4 292.9C340.4 291.9 337.7 291.2 334 291.2C327.8 291.2 321.9 292.7 321.9 292.9C321.9 293.1 327.8 294.6 334 294.6C337.7 294.6 340.4 293.9 340.4 292.9Z" stroke-width="0.96" stroke-opacity="0.95"/>
<path d="M341.4 292.9C341.4 291.6 338.3 290.9 334 290.9C326.7 290.9 319.5 292.7 319.5 292.9C319.5 293.1 326.7 294.9 334 294.9C338.3 294.9 341.4 294.2 341.4 292.9Z" stroke-width="1.02" stroke-opacity="0.95"/>
<path d="M342.4 292.9C342.4 291.4 338.9 290.5 334 290.5C325.6 290.5 317.2 292.7 317.2 292.9C317.2 293.1 325.6 295.3 334 295.3C338.9 295.3 342.4 294.4 342.4 292.9Z" stroke-width="1" stroke-opacity="0.95"/>
<path d="M343.7 292.9C343.7 291.1 339.7 290.1 334 290.1C324.2 290.1 314.3 292.7 314.3 292.9C314.3 293.1 324.2 295.7 334 295.7C339.7 295.7 343.7 294.7 343.7 292.9Z" stroke-width="1.18" stroke-opacity="0.95"/>
<path d="M344.9 292.9C344.9 290.8 340.5 289.7 334 289.7C322.7 289.7 311.5 292.6 311.5 292.9C311.5 293.2 322.7 296.1 334 296.1C340.5 296.1 344.9 295 344.9 292.9Z" stroke-width="1.28" stroke-opacity="0.95"/>
<path d="M345.8 292.9C345.8 290.6 341.1 289.4 334 289.4C320.4 289.4 306.9 292.6 306.9 292.9C306.9 293.2 320.4 296.3 334 296.3C341.1 296.3 345.8 295.2 345.8 292.9Z" stroke-width="0.83" stroke-opacity="0.9"/>
<path d="M347.2 292.9C347.2 290.3 342 289 334 289C315 289 296 292.5 296 292.9C296 293.3 315 296.8 334 296.8C342 296.8 347.2 295.5 347.2 292.9Z" stroke-width="0.79" stroke-opacity="0.9"/>
<path d="M348.2 292.9C348.2 290 342.7 288.6 334 288.6C310.9 288.6 287.8 292.5 287.8 292.9C287.8 293.3 310.9 297.1 334 297.1C342.7 297.1 348.2 295.8 348.2 292.9Z" stroke-width="0.87" stroke-opacity="0.9"/>
<path d="M349.1 292.9C349.1 289.7 343.3 288.3 334 288.3C307.4 288.3 280.9 292.5 280.9 292.9C280.9 293.3 307.4 297.4 334 297.4C343.3 297.4 349.1 296 349.1 292.9Z" stroke-width="0.75" stroke-opacity="0.9"/>
<path d="M350.3 292.9C350.3 289.2 344.3 287.8 334 287.8C298.4 287.8 270.9 291.9 270.9 292.9C270.9 293.9 298.4 297.8 334 297.8C344.3 297.8 350.3 296.4 350.3 292.9Z" stroke-width="0.5" stroke-opacity="0.75"/>
<path d="M350.9 292.9C350.9 288.8 344.9 287.4 334 287.4C290.5 287.4 265.9 291.2 265.9 292.9C265.9 294.5 290.5 298 334 298C344.9 298 350.9 296.7 350.9 292.9Z" stroke-width="0.57" stroke-opacity="0.75"/>
<path d="M351.7 292.9C351.7 288.3 345.8 286.8 334 286.8C278 286.8 258.9 290 258.9 292.9C258.9 295.4 278 298.3 334 298.3C345.8 298.3 351.7 297 351.7 292.9Z" stroke-width="0.49" stroke-opacity="0.75"/>
<path d="M352.3 292.9C352.3 287.8 346.5 286.4 334 286.4C268 286.4 253.7 289.1 253.7 292.9C253.7 296.2 268 298.5 334 298.5C346.5 298.5 352.3 297.3 352.3 292.9Z" stroke-width="0.44" stroke-opacity="0.75"/>
<path d="M353 292.9C353 287.3 347.3 285.9 334 285.9C256.2 285.9 247.8 287.9 247.8 292.9C247.8 297.1 256.2 298.8 334 298.8C347.3 298.8 353 297.6 353 292.9Z" stroke-width="0.6" stroke-opacity="0.75"/>
<path d="M353.4 292.9C353.4 287 347.9 285.5 334 285.5C251.4 285.5 243.3 287.5 243.3 292.9C243.3 297.3 251.4 299 334 299C347.9 299 353.4 297.8 353.4 292.9Z" stroke-width="0.47" stroke-opacity="0.65"/>
<path d="M354.2 292.9C354.2 286.4 348.8 285 334 285C243.4 285 236 286.8 236 292.9C236 297.8 243.4 299.2 334 299.2C348.8 299.2 354.2 298.1 354.2 292.9Z" stroke-width="0.41" stroke-opacity="0.65"/>
<path d="M354.8 292.9C354.8 285.9 349.6 284.6 334 284.6C236.6 284.6 229.9 286.2 229.9 292.9C229.9 298.2 236.6 299.4 334 299.4C349.6 299.4 354.8 298.4 354.8 292.9Z" stroke-width="0.41" stroke-opacity="0.65"/>
<path d="M355.3 292.9C355.3 285.4 350.3 284.2 334 284.2C230.3 284.2 224.4 285.6 224.4 292.9C224.4 298.6 230.3 299.6 334 299.6C350.3 299.6 355.3 298.7 355.3 292.9Z" stroke-width="0.44" stroke-opacity="0.65"/>
<path d="M355.7 292.9C355.7 285 350.9 283.9 334 283.9C225.4 283.9 220.1 285.1 220.1 292.9C220.1 298.9 225.4 299.8 334 299.8C350.9 299.8 355.7 298.9 355.7 292.9Z" stroke-width="0.45" stroke-opacity="0.65"/>
<path d="M356.4 292.9C356.4 284.4 351.8 283.4 334 283.4C217.3 283.4 213.3 284.3 213.3 292.9C213.3 299.4 217.3 300 334 300C351.8 300 356.4 299.3 356.4 292.9Z" stroke-width="0.38" stroke-opacity="0.65"/>
<path d="M337 308.4C337 308.1 335.7 307.8 334 307.8C331.6 307.8 329.6 308.3 329.6 308.4C329.6 308.5 331.6 309 334 309C335.7 309 337 308.8 337 308.4Z" stroke-width="1.42" stroke-opacity="0.95"/>
<path d="M338.2 308.4C338.2 307.8 336.4 307.4 334 307.4C330.3 307.4 326.9 308.2 326.9 308.4C326.9 308.6 330.3 309.4 334 309.4C336.4 309.4 338.2 309 338.2 308.4Z" stroke-width="1.03" stroke-opacity="0.95"/>
<path d="M339.5 308.4C339.5 307.6 337.2 307 334 307C328.8 307 323.9 308.2 323.9 308.4C323.9 308.6 328.8 309.9 334 309.9C337.2 309.9 339.5 309.3 339.5 308.4Z" stroke-width="0.97" stroke-opacity="0.95"/>
<path d="M340.3 308.4C340.3 307.4 337.6 306.8 334 306.8C327.9 306.8 322.1 308.2 322.1 308.4C322.1 308.6 327.9 310.2 334 310.2C337.6 310.2 340.3 309.5 340.3 308.4Z" stroke-width="1.17" stroke-opacity="0.95"/>
<path d="M341.5 308.4C341.5 307.1 338.4 306.4 334 306.4C326.6 306.4 319.3 308.2 319.3 308.4C319.3 308.6 326.6 310.6 334 310.6C338.4 310.6 341.5 309.8 341.5 308.4Z" stroke-width="1.01" stroke-opacity="0.95"/>
<path d="M342.5 308.4C342.5 306.9 339 306.1 334 306.1C325.6 306.1 317.1 308.2 317.1 308.4C317.1 308.6 325.6 311 334 311C339 311 342.5 310 342.5 308.4Z" stroke-width="1.24" stroke-opacity="0.95"/>
<path d="M343.6 308.4C343.6 306.7 339.6 305.7 334 305.7C324.3 305.7 314.7 308.2 314.7 308.4C314.7 308.6 324.3 311.3 334 311.3C339.6 311.3 343.6 310.3 343.6 308.4Z" stroke-width="1.1" stroke-opacity="0.95"/>
<path d="M344.6 308.4C344.6 306.4 340.3 305.4 334 305.4C323.1 305.4 312.2 308.1 312.2 308.4C312.2 308.7 323.1 311.7 334 311.7C340.3 311.7 344.6 310.5 344.6 308.4Z" stroke-width="0.98" stroke-opacity="0.95"/>
<path d="M345.8 308.4C345.8 306.2 341.1 305 334 305C320.3 305 306.6 308.1 306.6 308.4C306.6 308.7 320.3 312.1 334 312.1C341.1 312.1 345.8 310.9 345.8 308.4Z" stroke-width="0.66" stroke-opacity="0.9"/>
<path d="M346.8 308.4C346.8 305.9 341.8 304.7 334 304.7C316.3 304.7 298.5 308.1 298.5 308.4C298.5 308.8 316.3 312.5 334 312.5C341.8 312.5 346.8 311.1 346.8 308.4Z" stroke-width="0.9" stroke-opacity="0.9"/>
<path d="M347.9 308.4C347.9 305.6 342.5 304.3 334 304.3C312.1 304.3 290.1 308 290.1 308.4C290.1 308.8 312.1 312.9 334 312.9C342.5 312.9 347.9 311.4 347.9 308.4Z" stroke-width="0.74" stroke-opacity="0.9"/>
<path d="M349.1 308.4C349.1 305.3 343.3 304 334 304C307.5 304 280.9 308 280.9 308.4C280.9 308.9 307.5 313.3 334 313.3C343.3 313.3 349.1 311.8 349.1 308.4Z" stroke-width="0.92" stroke-opacity="0.9"/>
<path d="M350 308.4C350 305 344 303.6 334 303.6C302 303.6 273.3 307.7 273.3 308.4C273.3 309.1 302 313.7 334 313.7C344 313.7 350 312.1 350 308.4Z" stroke-width="0.5" stroke-opacity="0.75"/>
<path d="M350.8 308.4C350.8 304.7 344.9 303.4 334 303.4C291.2 303.4 266.3 306.9 266.3 308.4C266.3 310.2 291.2 314.3 334 314.3C344.9 314.3 350.8 312.7 350.8 308.4Z" stroke-width="0.61" stroke-opacity="0.75"/>
<path d="M351.3 308.4C351.3 304.5 345.4 303.2 334 303.2C283.6 303.2 261.9 306.3 261.9 308.4C261.9 310.9 283.6 314.7 334 314.7C345.4 314.7 351.3 313.1 351.3 308.4Z" stroke-width="0.47" stroke-opacity="0.75"/>
<path d="M352 308.4C352 304.2 346.2 302.9 334 302.9C272.9 302.9 256.2 305.5 256.2 308.4C256.2 312 272.9 315.2 334 315.2C346.2 315.2 352 313.6 352 308.4Z" stroke-width="0.46" stroke-opacity="0.75"/>
<path d="M352.8 308.4C352.8 303.8 347.2 302.6 334 302.6C257.5 302.6 248.8 304.4 248.8 308.4C248.8 313.6 257.5 315.9 334 315.9C347.2 315.9 352.8 314.3 352.8 308.4Z" stroke-width="0.46" stroke-opacity="0.75"/>
<path d="M353.5 308.4C353.5 303.6 347.9 302.4 334 302.4C251.2 302.4 243.1 304 243.1 308.4C243.1 314.2 251.2 316.3 334 316.3C347.9 316.3 353.5 314.8 353.5 308.4Z" stroke-width="0.49" stroke-opacity="0.65"/>
<path d="M354.1 308.4C354.1 303.3 348.8 302.2 334 302.2C243.8 302.2 236.4 303.6 236.4 308.4C236.4 314.9 243.8 316.8 334 316.8C348.8 316.8 354.1 315.4 354.1 308.4Z" stroke-width="0.45" stroke-opacity="0.65"/>
<path d="M354.5 308.4C354.5 303.1 349.2 302.1 334 302.1C240 302.1 232.9 303.4 232.9 308.4C232.9 315.3 240 317.1 334 317.1C349.2 317.1 354.5 315.7 354.5 308.4Z" stroke-width="0.4" stroke-opacity="0.65"/>
<path d="M355.2 308.4C355.2 302.8 350.1 301.8 334 301.8C232.1 301.8 225.9 302.9 225.9 308.4C225.9 316.1 232.1 317.6 334 317.6C350.1 317.6 355.2 316.3 355.2 308.4Z" stroke-width="0.35" stroke-opacity="0.65"/>
<path d="M355.7 308.4C355.7 302.5 350.9 301.6 334 301.6C225.5 301.6 220.2 302.5 220.2 308.4C220.2 316.8 225.5 318 334 318C350.9 318 355.7 316.8 355.7 308.4Z" stroke-width="0.46" stroke-opacity="0.65"/>
<path d="M356.2 308.4C356.2 302.2 351.5 301.5 334 301.5C220.3 301.5 215.8 302.2 215.8 308.4C215.8 317.3 220.3 318.4 334 318.4C351.5 318.4 356.2 317.2 356.2 308.4Z" stroke-width="0.52" stroke-opacity="0.65"/>
<path d="M212 300.7H256" stroke-width="0.7" stroke-opacity="0.75"/>
<path d="M296 300.7H357" stroke-width="0.9" stroke-opacity="0.8"/>
<path d="M254 300.7C266 299 272 297.3 296 297.6" stroke-width="0.6" stroke-opacity="0.7"/>
<path d="M254 300.7C266 302.4 272 304 296 303.8" stroke-width="0.6" stroke-opacity="0.7"/>
</g>
<text x="96.7" y="11.5" font-size="8.8" text-anchor="start" fill="#2a2a2a" stroke="#2a2a2a" stroke-width="0.25">1 µL/s</text>
<text x="268" y="11.7" font-size="8.8" text-anchor="start" fill="#2a2a2a" stroke="#2a2a2a" stroke-width="0.25">8 µL/s</text>
<text x="408.2" y="11.5" font-size="9.05" text-anchor="start" fill="#2a2a2a" stroke="#2a2a2a" stroke-width="0.25">Migration of vortex centers</text>
<path d="M38.2 34.3H186V72" fill="none" stroke="#c4c4c4" stroke-width="0.6"/>
<path d="M38.2 34.3V72H186" fill="none" stroke="#8a8a8a" stroke-width="0.6"/>
<path d="M38.3 100.6H185.2V151.8" fill="none" stroke="#c4c4c4" stroke-width="0.6"/>
<path d="M38.3 100.6V151.8H185.2" fill="none" stroke="#8a8a8a" stroke-width="0.6"/>
<path d="M38.2 177.2H185.2V251.6" fill="none" stroke="#c4c4c4" stroke-width="0.6"/>
<path d="M38.2 177.2V251.6H185.2" fill="none" stroke="#8a8a8a" stroke-width="0.6"/>
<path d="M38.2 279.7H185.6V322.7" fill="none" stroke="#c4c4c4" stroke-width="0.6"/>
<path d="M38.2 279.7V322.7H185.6" fill="none" stroke="#8a8a8a" stroke-width="0.6"/>
<path d="M210.2 32H358.1V74" fill="none" stroke="#c4c4c4" stroke-width="0.6"/>
<path d="M210.2 32V74H358.1" fill="none" stroke="#8a8a8a" stroke-width="0.6"/>
<path d="M210.2 100.5H358.5V152.7" fill="none" stroke="#c4c4c4" stroke-width="0.6"/>
<path d="M210.2 100.5V152.7H358.5" fill="none" stroke="#8a8a8a" stroke-width="0.6"/>
<path d="M210.2 175.4H358.5V252.2" fill="none" stroke="#c4c4c4" stroke-width="0.6"/>
<path d="M210.2 175.4V252.2H358.5" fill="none" stroke="#8a8a8a" stroke-width="0.6"/>
<path d="M210 279.7H358.3V322.5" fill="none" stroke="#c4c4c4" stroke-width="0.6"/>
<path d="M210 279.7V322.5H358.3" fill="none" stroke="#8a8a8a" stroke-width="0.6"/>
<path d="M382.4 33.4H528.7V71.4" fill="none" stroke="#8c8c8c" stroke-width="0.8"/>
<path d="M382.4 33.4V71.4H528.7" fill="none" stroke="#777" stroke-width="0.8"/>
<path d="M382.2 100.5H528.5V152.3" fill="none" stroke="#8c8c8c" stroke-width="0.8"/>
<path d="M382.2 100.5V152.3H528.5" fill="none" stroke="#777" stroke-width="0.8"/>
<path d="M382.2 177.1H531V251.4" fill="none" stroke="#8c8c8c" stroke-width="0.8"/>
<path d="M382.2 177.1V251.4H531" fill="none" stroke="#777" stroke-width="0.8"/>
<path d="M382.2 279.2H530.5V322.7" fill="none" stroke="#8c8c8c" stroke-width="0.8"/>
<path d="M382.2 279.2V322.7H530.5" fill="none" stroke="#777" stroke-width="0.8"/>
<path d="M382.2 103.5H528.5" stroke="#888" stroke-width="0.7" fill="none"/>
<path d="M382.2 282.5H530.5" stroke="#999" stroke-width="0.6" fill="none"/>
<path d="M382.2 319.7H530.5" stroke="#999" stroke-width="0.6" fill="none"/>
<path d="M382.4 73.8H528.7" stroke="#bbb" stroke-width="0.6" fill="none"/>
<text x="5" y="23.2" font-size="9.0" fill="#2a2a2a" stroke="#2a2a2a" stroke-width="0.25">H50 W<tspan font-size="4" dy="1.3" fill="#555">cr</tspan><tspan dy="-1.3">150</tspan></text>
<text x="5" y="91.7" font-size="9.0" fill="#2a2a2a" stroke="#2a2a2a" stroke-width="0.25">H50 W<tspan font-size="4" dy="1.3" fill="#555">cr</tspan><tspan dy="-1.3">100</tspan></text>
<text x="5" y="170.3" font-size="9.0" fill="#2a2a2a" stroke="#2a2a2a" stroke-width="0.25">H50 W<tspan font-size="4" dy="1.3" fill="#555">cr</tspan><tspan dy="-1.3">50</tspan></text>
<text x="5" y="272.5" font-size="9.0" fill="#2a2a2a" stroke="#2a2a2a" stroke-width="0.25">H25 W<tspan font-size="4" dy="1.3" fill="#555">cr</tspan><tspan dy="-1.3">50</tspan></text>
<text x="193" y="23.3" font-size="9.0" fill="#2a2a2a" stroke="#2a2a2a" stroke-width="0.25">H50 W<tspan font-size="4" dy="1.3" fill="#555">cr</tspan><tspan dy="-1.3">150</tspan></text>
<text x="193" y="91.7" font-size="9.0" fill="#2a2a2a" stroke="#2a2a2a" stroke-width="0.25">H50 W<tspan font-size="4" dy="1.3" fill="#555">cr</tspan><tspan dy="-1.3">100</tspan></text>
<text x="193" y="173.2" font-size="9.0" fill="#2a2a2a" stroke="#2a2a2a" stroke-width="0.25">H50 W<tspan font-size="4" dy="1.3" fill="#555">cr</tspan><tspan dy="-1.3">50</tspan></text>
<text x="192.7" y="272.7" font-size="9.0" fill="#2a2a2a" stroke="#2a2a2a" stroke-width="0.25">H25 W<tspan font-size="4" dy="1.3" fill="#555">cr</tspan><tspan dy="-1.3">50</tspan></text>
<text x="481.9" y="43.9" font-size="9.0" fill="#2a2a2a" stroke="#2a2a2a" stroke-width="0.25">H50 W<tspan font-size="4" dy="1.3" fill="#555">cr</tspan><tspan dy="-1.3">150</tspan></text>
<text x="478.2" y="111.1" font-size="9.0" fill="#2a2a2a" stroke="#2a2a2a" stroke-width="0.25">H50 W<tspan font-size="4" dy="1.3" fill="#555">cr</tspan><tspan dy="-1.3">100</tspan></text>
<text x="487.3" y="189.5" font-size="9.0" fill="#2a2a2a" stroke="#2a2a2a" stroke-width="0.25">H50 W<tspan font-size="4" dy="1.3" fill="#555">cr</tspan><tspan dy="-1.3">50</tspan></text>
<text x="484.7" y="290.7" font-size="9.0" fill="#2a2a2a" stroke="#2a2a2a" stroke-width="0.25">H25 W<tspan font-size="4" dy="1.3" fill="#555">cr</tspan><tspan dy="-1.3">50</tspan></text>
<text x="36.5" y="37.1" font-size="7.9" text-anchor="end" fill="#2a2a2a" stroke="#2a2a2a" stroke-width="0.25">50</text>
<text x="36.5" y="55.6" font-size="7.9" text-anchor="end" fill="#2a2a2a" stroke="#2a2a2a" stroke-width="0.25">25</text>
<text x="36.5" y="74.1" font-size="7.9" text-anchor="end" fill="#2a2a2a" stroke="#2a2a2a" stroke-width="0.25">0</text>
<text x="74.9" y="82.5" font-size="7.9" text-anchor="middle" fill="#2a2a2a" stroke="#2a2a2a" stroke-width="0.25">50</text>
<text x="112" y="82.5" font-size="7.9" text-anchor="middle" fill="#2a2a2a" stroke="#2a2a2a" stroke-width="0.25">100</text>
<text x="149" y="82.5" font-size="7.9" text-anchor="middle" fill="#2a2a2a" stroke="#2a2a2a" stroke-width="0.25">150</text>
<text x="186" y="82.5" font-size="7.9" text-anchor="middle" fill="#2a2a2a" stroke="#2a2a2a" stroke-width="0.25">200</text>
<path d="M74.9 72v2M112 72v2M149 72v2M186 72v2M38.2 34.6h-2M38.2 53.1h-2M38.2 71.6h-2" stroke="#8a8a8a" stroke-width="0.5" fill="none"/>
<text x="35" y="106" font-size="7.9" text-anchor="end" fill="#2a2a2a" stroke="#2a2a2a" stroke-width="0.25">50</text>
<text x="35" y="115.7" font-size="7.9" text-anchor="end" fill="#2a2a2a" stroke="#2a2a2a" stroke-width="0.25">40</text>
<text x="35" y="125.1" font-size="7.9" text-anchor="end" fill="#2a2a2a" stroke="#2a2a2a" stroke-width="0.25">30</text>
<text x="35" y="134.8" font-size="7.9" text-anchor="end" fill="#2a2a2a" stroke="#2a2a2a" stroke-width="0.25">20</text>
<text x="35" y="144.8" font-size="7.9" text-anchor="end" fill="#2a2a2a" stroke="#2a2a2a" stroke-width="0.25">10</text>
<text x="35" y="154.1" font-size="7.9" text-anchor="end" fill="#2a2a2a" stroke="#2a2a2a" stroke-width="0.25">0</text>
<text x="48.7" y="163.1" font-size="7.9" text-anchor="middle" fill="#2a2a2a" stroke="#2a2a2a" stroke-width="0.25">10</text>
<text x="67.8" y="163.1" font-size="7.9" text-anchor="middle" fill="#2a2a2a" stroke="#2a2a2a" stroke-width="0.25">30</text>
<text x="87.1" y="163.1" font-size="7.9" text-anchor="middle" fill="#2a2a2a" stroke="#2a2a2a" stroke-width="0.25">50</text>
<text x="106.7" y="163.1" font-size="7.9" text-anchor="middle" fill="#2a2a2a" stroke="#2a2a2a" stroke-width="0.25">70</text>
<text x="126.6" y="163.1" font-size="7.9" text-anchor="middle" fill="#2a2a2a" stroke="#2a2a2a" stroke-width="0.25">90</text>
<text x="146.3" y="163.1" font-size="7.9" text-anchor="middle" fill="#2a2a2a" stroke="#2a2a2a" stroke-width="0.25">110</text>
<text x="165.9" y="163.1" font-size="7.9" text-anchor="middle" fill="#2a2a2a" stroke="#2a2a2a" stroke-width="0.25">130</text>
<text x="185.2" y="163.1" font-size="7.9" text-anchor="middle" fill="#2a2a2a" stroke="#2a2a2a" stroke-width="0.25">150</text>
<path d="M48.7 151.8v2M67.8 151.8v2M87.1 151.8v2M106.7 151.8v2M126.6 151.8v2M146.3 151.8v2M165.9 151.8v2M185.2 151.8v2M38.3 103.5h-2M38.3 113.2h-2M38.3 122.6h-2M38.3 132.3h-2M38.3 142.3h-2" stroke="#8a8a8a" stroke-width="0.5" fill="none"/>
<text x="35" y="180.1" font-size="7.9" text-anchor="end" fill="#2a2a2a" stroke="#2a2a2a" stroke-width="0.25">50</text>
<text x="35" y="194.7" font-size="7.9" text-anchor="end" fill="#2a2a2a" stroke="#2a2a2a" stroke-width="0.25">40</text>
<text x="35" y="209.4" font-size="7.9" text-anchor="end" fill="#2a2a2a" stroke="#2a2a2a" stroke-width="0.25">30</text>
<text x="35" y="224.4" font-size="7.9" text-anchor="end" fill="#2a2a2a" stroke="#2a2a2a" stroke-width="0.25">20</text>
<text x="35" y="239" font-size="7.9" text-anchor="end" fill="#2a2a2a" stroke="#2a2a2a" stroke-width="0.25">10</text>
<text x="35" y="253.8" font-size="7.9" text-anchor="end" fill="#2a2a2a" stroke="#2a2a2a" stroke-width="0.25">0</text>
<text x="38.2" y="261.5" font-size="7.9" text-anchor="middle" fill="#2a2a2a" stroke="#2a2a2a" stroke-width="0.25">0</text>
<text x="67.6" y="261.5" font-size="7.9" text-anchor="middle" fill="#2a2a2a" stroke="#2a2a2a" stroke-width="0.25">20</text>
<text x="97" y="261.5" font-size="7.9" text-anchor="middle" fill="#2a2a2a" stroke="#2a2a2a" stroke-width="0.25">40</text>
<text x="126.4" y="261.5" font-size="7.9" text-anchor="middle" fill="#2a2a2a" stroke="#2a2a2a" stroke-width="0.25">60</text>
<text x="155.8" y="261.5" font-size="7.9" text-anchor="middle" fill="#2a2a2a" stroke="#2a2a2a" stroke-width="0.25">80</text>
<text x="185.2" y="261.5" font-size="7.9" text-anchor="middle" fill="#2a2a2a" stroke="#2a2a2a" stroke-width="0.25">100</text>
<path d="M38.2 251.6v2M67.6 251.6v2M97 251.6v2M126.4 251.6v2M155.8 251.6v2M185.2 251.6v2M38.2 177.6h-2M38.2 192.2h-2M38.2 206.9h-2M38.2 221.9h-2M38.2 236.5h-2" stroke="#8a8a8a" stroke-width="0.5" fill="none"/>
<text x="36.1" y="284.7" font-size="7.9" text-anchor="end" fill="#2a2a2a" stroke="#2a2a2a" stroke-width="0.25">50</text>
<text x="36.1" y="303.3" font-size="7.9" text-anchor="end" fill="#2a2a2a" stroke="#2a2a2a" stroke-width="0.25">25</text>
<text x="36.1" y="321.8" font-size="7.9" text-anchor="end" fill="#2a2a2a" stroke="#2a2a2a" stroke-width="0.25">0</text>
<text x="38.2" y="331.7" font-size="7.9" text-anchor="middle" fill="#2a2a2a" stroke="#2a2a2a" stroke-width="0.25">0</text>
<text x="67.6" y="331.7" font-size="7.9" text-anchor="middle" fill="#2a2a2a" stroke="#2a2a2a" stroke-width="0.25">20</text>
<text x="97" y="331.7" font-size="7.9" text-anchor="middle" fill="#2a2a2a" stroke="#2a2a2a" stroke-width="0.25">40</text>
<text x="126.4" y="331.7" font-size="7.9" text-anchor="middle" fill="#2a2a2a" stroke="#2a2a2a" stroke-width="0.25">60</text>
<text x="155.8" y="331.7" font-size="7.9" text-anchor="middle" fill="#2a2a2a" stroke="#2a2a2a" stroke-width="0.25">80</text>
<text x="185.2" y="331.7" font-size="7.9" text-anchor="middle" fill="#2a2a2a" stroke="#2a2a2a" stroke-width="0.25">100</text>
<path d="M38.2 322.7v2M67.6 322.7v2M97 322.7v2M126.4 322.7v2M155.8 322.7v2M185.2 322.7v2M38.2 282h-2M38.2 300.8h-2M38.2 319.3h-2" stroke="#8a8a8a" stroke-width="0.5" fill="none"/>
<text x="16.2" y="35.6" font-size="6.4" text-anchor="start" fill="#333" stroke="#333" stroke-width="0.25">µm</text>
<text x="16.5" y="104.9" font-size="6.4" text-anchor="start" fill="#333" stroke="#333" stroke-width="0.25">µm</text>
<text x="16.5" y="179.2" font-size="6.4" text-anchor="start" fill="#333" stroke="#333" stroke-width="0.25">µm</text>
<text x="17" y="283.5" font-size="6.4" text-anchor="start" fill="#333" stroke="#333" stroke-width="0.25">µm</text>
<text x="194.5" y="329.9" font-size="6.4" text-anchor="start" fill="#333" stroke="#333" stroke-width="0.25">µm</text>
<text x="208.3" y="37.1" font-size="7.9" text-anchor="end" fill="#2a2a2a" stroke="#2a2a2a" stroke-width="0.25">50</text>
<text x="208.3" y="55.4" font-size="7.9" text-anchor="end" fill="#2a2a2a" stroke="#2a2a2a" stroke-width="0.25">25</text>
<text x="208.3" y="73.9" font-size="7.9" text-anchor="end" fill="#2a2a2a" stroke="#2a2a2a" stroke-width="0.25">0</text>
<text x="247.3" y="82.5" font-size="7.9" text-anchor="middle" fill="#2a2a2a" stroke="#2a2a2a" stroke-width="0.25">50</text>
<text x="284.1" y="82.5" font-size="7.9" text-anchor="middle" fill="#2a2a2a" stroke="#2a2a2a" stroke-width="0.25">100</text>
<text x="320.9" y="82.5" font-size="7.9" text-anchor="middle" fill="#2a2a2a" stroke="#2a2a2a" stroke-width="0.25">150</text>
<text x="357.7" y="82.5" font-size="7.9" text-anchor="middle" fill="#2a2a2a" stroke="#2a2a2a" stroke-width="0.25">200</text>
<path d="M247.3 74v2M284.1 74v2M320.9 74v2M357.7 74v2M210.2 34.6h-2M210.2 52.9h-2M210.2 71.4h-2" stroke="#8a8a8a" stroke-width="0.5" fill="none"/>
<text x="207" y="106" font-size="7.9" text-anchor="end" fill="#2a2a2a" stroke="#2a2a2a" stroke-width="0.25">50</text>
<text x="207" y="115.4" font-size="7.9" text-anchor="end" fill="#2a2a2a" stroke="#2a2a2a" stroke-width="0.25">40</text>
<text x="207" y="125.1" font-size="7.9" text-anchor="end" fill="#2a2a2a" stroke="#2a2a2a" stroke-width="0.25">30</text>
<text x="207" y="134.8" font-size="7.9" text-anchor="end" fill="#2a2a2a" stroke="#2a2a2a" stroke-width="0.25">20</text>
<text x="207" y="144.8" font-size="7.9" text-anchor="end" fill="#2a2a2a" stroke="#2a2a2a" stroke-width="0.25">10</text>
<text x="207" y="154.5" font-size="7.9" text-anchor="end" fill="#2a2a2a" stroke="#2a2a2a" stroke-width="0.25">0</text>
<text x="220.2" y="162.5" font-size="7.9" text-anchor="middle" fill="#2a2a2a" stroke="#2a2a2a" stroke-width="0.25">10</text>
<text x="239.6" y="162.5" font-size="7.9" text-anchor="middle" fill="#2a2a2a" stroke="#2a2a2a" stroke-width="0.25">30</text>
<text x="259.2" y="162.5" font-size="7.9" text-anchor="middle" fill="#2a2a2a" stroke="#2a2a2a" stroke-width="0.25">50</text>
<text x="279.4" y="162.5" font-size="7.9" text-anchor="middle" fill="#2a2a2a" stroke="#2a2a2a" stroke-width="0.25">70</text>
<text x="299.8" y="162.5" font-size="7.9" text-anchor="middle" fill="#2a2a2a" stroke="#2a2a2a" stroke-width="0.25">90</text>
<text x="319.3" y="162.5" font-size="7.9" text-anchor="middle" fill="#2a2a2a" stroke="#2a2a2a" stroke-width="0.25">110</text>
<text x="339" y="162.5" font-size="7.9" text-anchor="middle" fill="#2a2a2a" stroke="#2a2a2a" stroke-width="0.25">130</text>
<text x="358.1" y="162.5" font-size="7.9" text-anchor="middle" fill="#2a2a2a" stroke="#2a2a2a" stroke-width="0.25">150</text>
<path d="M220.2 152.7v2M239.6 152.7v2M259.2 152.7v2M279.4 152.7v2M299.8 152.7v2M319.3 152.7v2M339 152.7v2M358.1 152.7v2M210.2 103.5h-2M210.2 112.9h-2M210.2 122.6h-2M210.2 132.3h-2M210.2 142.3h-2" stroke="#8a8a8a" stroke-width="0.5" fill="none"/>
<text x="207" y="180.3" font-size="7.9" text-anchor="end" fill="#2a2a2a" stroke="#2a2a2a" stroke-width="0.25">50</text>
<text x="207" y="194.8" font-size="7.9" text-anchor="end" fill="#2a2a2a" stroke="#2a2a2a" stroke-width="0.25">40</text>
<text x="207" y="209.5" font-size="7.9" text-anchor="end" fill="#2a2a2a" stroke="#2a2a2a" stroke-width="0.25">30</text>
<text x="207" y="224.2" font-size="7.9" text-anchor="end" fill="#2a2a2a" stroke="#2a2a2a" stroke-width="0.25">20</text>
<text x="207" y="239.1" font-size="7.9" text-anchor="end" fill="#2a2a2a" stroke="#2a2a2a" stroke-width="0.25">10</text>
<text x="207" y="253.8" font-size="7.9" text-anchor="end" fill="#2a2a2a" stroke="#2a2a2a" stroke-width="0.25">0</text>
<text x="210.2" y="261.8" font-size="7.9" text-anchor="middle" fill="#2a2a2a" stroke="#2a2a2a" stroke-width="0.25">0</text>
<text x="239.8" y="261.8" font-size="7.9" text-anchor="middle" fill="#2a2a2a" stroke="#2a2a2a" stroke-width="0.25">20</text>
<text x="269.1" y="261.8" font-size="7.9" text-anchor="middle" fill="#2a2a2a" stroke="#2a2a2a" stroke-width="0.25">40</text>
<text x="298.8" y="261.8" font-size="7.9" text-anchor="middle" fill="#2a2a2a" stroke="#2a2a2a" stroke-width="0.25">60</text>
<text x="328.4" y="261.8" font-size="7.9" text-anchor="middle" fill="#2a2a2a" stroke="#2a2a2a" stroke-width="0.25">80</text>
<text x="358.3" y="261.8" font-size="7.9" text-anchor="middle" fill="#2a2a2a" stroke="#2a2a2a" stroke-width="0.25">100</text>
<path d="M210.2 252.2v2M239.8 252.2v2M269.1 252.2v2M298.8 252.2v2M328.4 252.2v2M358.3 252.2v2M210.2 177.8h-2M210.2 192.3h-2M210.2 207h-2M210.2 221.7h-2M210.2 236.6h-2" stroke="#8a8a8a" stroke-width="0.5" fill="none"/>
<text x="208" y="284.4" font-size="7.9" text-anchor="end" fill="#2a2a2a" stroke="#2a2a2a" stroke-width="0.25">50</text>
<text x="208" y="303.5" font-size="7.9" text-anchor="end" fill="#2a2a2a" stroke="#2a2a2a" stroke-width="0.25">25</text>
<text x="208" y="322" font-size="7.9" text-anchor="end" fill="#2a2a2a" stroke="#2a2a2a" stroke-width="0.25">0</text>
<text x="210" y="331.1" font-size="7.9" text-anchor="middle" fill="#2a2a2a" stroke="#2a2a2a" stroke-width="0.25">0</text>
<text x="239.3" y="331.1" font-size="7.9" text-anchor="middle" fill="#2a2a2a" stroke="#2a2a2a" stroke-width="0.25">20</text>
<text x="268.8" y="331.1" font-size="7.9" text-anchor="middle" fill="#2a2a2a" stroke="#2a2a2a" stroke-width="0.25">40</text>
<text x="298.8" y="331.1" font-size="7.9" text-anchor="middle" fill="#2a2a2a" stroke="#2a2a2a" stroke-width="0.25">60</text>
<text x="328.8" y="331.1" font-size="7.9" text-anchor="middle" fill="#2a2a2a" stroke="#2a2a2a" stroke-width="0.25">80</text>
<text x="358.3" y="331.1" font-size="7.9" text-anchor="middle" fill="#2a2a2a" stroke="#2a2a2a" stroke-width="0.25">100</text>
<path d="M210 322.5v2M239.3 322.5v2M268.8 322.5v2M298.8 322.5v2M328.8 322.5v2M358.3 322.5v2M210 281.9h-2M210 301h-2M210 319.5h-2" stroke="#8a8a8a" stroke-width="0.5" fill="none"/>
<text x="187" y="34.4" font-size="6.4" text-anchor="start" fill="#333" stroke="#333" stroke-width="0.25">µm</text>
<text x="188" y="104.2" font-size="6.4" text-anchor="start" fill="#333" stroke="#333" stroke-width="0.25">µm</text>
<text x="188" y="178.2" font-size="6.4" text-anchor="start" fill="#333" stroke="#333" stroke-width="0.25">µm</text>
<text x="190.6" y="283.6" font-size="5.2" text-anchor="start" fill="#333" stroke="#333" stroke-width="0.25">µm</text>
<text x="367.3" y="81.6" font-size="6.4" text-anchor="start" fill="#333" stroke="#333" stroke-width="0.25">µm</text>
<text x="366.3" y="159.2" font-size="6.4" text-anchor="start" fill="#333" stroke="#333" stroke-width="0.25">µm</text>
<text x="367.5" y="261.6" font-size="6.4" text-anchor="start" fill="#333" stroke="#333" stroke-width="0.25">µm</text>
<text x="367.5" y="329.2" font-size="6.4" text-anchor="start" fill="#333" stroke="#333" stroke-width="0.25">µm</text>
<text x="380.3" y="37.5" font-size="7.9" text-anchor="end" fill="#2a2a2a" stroke="#2a2a2a" stroke-width="0.25">50</text>
<text x="380.3" y="55.4" font-size="7.9" text-anchor="end" fill="#2a2a2a" stroke="#2a2a2a" stroke-width="0.25">25</text>
<text x="380.3" y="74" font-size="7.9" text-anchor="end" fill="#2a2a2a" stroke="#2a2a2a" stroke-width="0.25">0</text>
<text x="382.6" y="83.2" font-size="7.9" text-anchor="middle" fill="#2a2a2a" stroke="#2a2a2a" stroke-width="0.25">0</text>
<text x="418.8" y="83.2" font-size="7.9" text-anchor="middle" fill="#2a2a2a" stroke="#2a2a2a" stroke-width="0.25">50</text>
<text x="455.3" y="83.2" font-size="7.9" text-anchor="middle" fill="#2a2a2a" stroke="#2a2a2a" stroke-width="0.25">100</text>
<text x="491.7" y="83.2" font-size="7.9" text-anchor="middle" fill="#2a2a2a" stroke="#2a2a2a" stroke-width="0.25">150</text>
<text x="527.7" y="83.2" font-size="7.9" text-anchor="middle" fill="#2a2a2a" stroke="#2a2a2a" stroke-width="0.25">200</text>
<path d="M382.6 71.4v2M418.8 71.4v2M455.3 71.4v2M491.7 71.4v2M527.7 71.4v2M382.4 35.2h-2M382.4 52.7h-2M382.4 71.3h-2" stroke="#777" stroke-width="0.5" fill="none"/>
<text x="379.3" y="105.7" font-size="7.9" text-anchor="end" fill="#2a2a2a" stroke="#2a2a2a" stroke-width="0.25">50</text>
<text x="379.3" y="115.5" font-size="7.9" text-anchor="end" fill="#2a2a2a" stroke="#2a2a2a" stroke-width="0.25">40</text>
<text x="379.3" y="125.1" font-size="7.9" text-anchor="end" fill="#2a2a2a" stroke="#2a2a2a" stroke-width="0.25">30</text>
<text x="379.3" y="135.1" font-size="7.9" text-anchor="end" fill="#2a2a2a" stroke="#2a2a2a" stroke-width="0.25">20</text>
<text x="379.3" y="144.8" font-size="7.9" text-anchor="end" fill="#2a2a2a" stroke="#2a2a2a" stroke-width="0.25">10</text>
<text x="379.3" y="154.6" font-size="7.9" text-anchor="end" fill="#2a2a2a" stroke="#2a2a2a" stroke-width="0.25">0</text>
<text x="391.2" y="162.3" font-size="7.9" text-anchor="middle" fill="#2a2a2a" stroke="#2a2a2a" stroke-width="0.25">10</text>
<text x="410.4" y="162.3" font-size="7.9" text-anchor="middle" fill="#2a2a2a" stroke="#2a2a2a" stroke-width="0.25">30</text>
<text x="430.3" y="162.3" font-size="7.9" text-anchor="middle" fill="#2a2a2a" stroke="#2a2a2a" stroke-width="0.25">50</text>
<text x="449.6" y="162.3" font-size="7.9" text-anchor="middle" fill="#2a2a2a" stroke="#2a2a2a" stroke-width="0.25">70</text>
<text x="469.6" y="162.3" font-size="7.9" text-anchor="middle" fill="#2a2a2a" stroke="#2a2a2a" stroke-width="0.25">90</text>
<text x="489.3" y="162.3" font-size="7.9" text-anchor="middle" fill="#2a2a2a" stroke="#2a2a2a" stroke-width="0.25">110</text>
<text x="509" y="162.3" font-size="7.9" text-anchor="middle" fill="#2a2a2a" stroke="#2a2a2a" stroke-width="0.25">130</text>
<text x="527.9" y="162.3" font-size="7.9" text-anchor="middle" fill="#2a2a2a" stroke="#2a2a2a" stroke-width="0.25">150</text>
<path d="M391.2 152.3v2M410.4 152.3v2M430.3 152.3v2M449.6 152.3v2M469.6 152.3v2M489.3 152.3v2M509 152.3v2M527.9 152.3v2M382.2 103.3h-2M382.2 113h-2M382.2 122.6h-2M382.2 132.6h-2M382.2 142.3h-2M382.2 152.1h-2" stroke="#777" stroke-width="0.5" fill="none"/>
<text x="379.3" y="180.2" font-size="7.9" text-anchor="end" fill="#2a2a2a" stroke="#2a2a2a" stroke-width="0.25">50</text>
<text x="379.3" y="194.7" font-size="7.9" text-anchor="end" fill="#2a2a2a" stroke="#2a2a2a" stroke-width="0.25">40</text>
<text x="379.3" y="209.3" font-size="7.9" text-anchor="end" fill="#2a2a2a" stroke="#2a2a2a" stroke-width="0.25">30</text>
<text x="379.3" y="224.4" font-size="7.9" text-anchor="end" fill="#2a2a2a" stroke="#2a2a2a" stroke-width="0.25">20</text>
<text x="379.3" y="238.8" font-size="7.9" text-anchor="end" fill="#2a2a2a" stroke="#2a2a2a" stroke-width="0.25">10</text>
<text x="379.3" y="253.7" font-size="7.9" text-anchor="end" fill="#2a2a2a" stroke="#2a2a2a" stroke-width="0.25">0</text>
<text x="382.6" y="261.9" font-size="7.9" text-anchor="middle" fill="#2a2a2a" stroke="#2a2a2a" stroke-width="0.25">0</text>
<text x="411.8" y="261.9" font-size="7.9" text-anchor="middle" fill="#2a2a2a" stroke="#2a2a2a" stroke-width="0.25">20</text>
<text x="441.5" y="261.9" font-size="7.9" text-anchor="middle" fill="#2a2a2a" stroke="#2a2a2a" stroke-width="0.25">40</text>
<text x="470.2" y="261.9" font-size="7.9" text-anchor="middle" fill="#2a2a2a" stroke="#2a2a2a" stroke-width="0.25">60</text>
<text x="500.4" y="261.9" font-size="7.9" text-anchor="middle" fill="#2a2a2a" stroke="#2a2a2a" stroke-width="0.25">80</text>
<text x="529.5" y="261.9" font-size="7.9" text-anchor="middle" fill="#2a2a2a" stroke="#2a2a2a" stroke-width="0.25">100</text>
<path d="M382.6 251.4v2M411.8 251.4v2M441.5 251.4v2M470.2 251.4v2M500.4 251.4v2M529.5 251.4v2M382.2 177.7h-2M382.2 192.2h-2M382.2 206.8h-2M382.2 221.9h-2M382.2 236.3h-2M382.2 251.2h-2" stroke="#777" stroke-width="0.5" fill="none"/>
<text x="380.2" y="278.1" font-size="7.9" text-anchor="end" fill="#2a2a2a" stroke="#2a2a2a" stroke-width="0.25">50</text>
<text x="380.2" y="296.6" font-size="7.9" text-anchor="end" fill="#2a2a2a" stroke="#2a2a2a" stroke-width="0.25">25</text>
<text x="380.2" y="315.3" font-size="7.9" text-anchor="end" fill="#2a2a2a" stroke="#2a2a2a" stroke-width="0.25">0</text>
<text x="382.2" y="331.5" font-size="7.9" text-anchor="middle" fill="#2a2a2a" stroke="#2a2a2a" stroke-width="0.25">0</text>
<text x="411.4" y="331.5" font-size="7.9" text-anchor="middle" fill="#2a2a2a" stroke="#2a2a2a" stroke-width="0.25">20</text>
<text x="441.5" y="331.5" font-size="7.9" text-anchor="middle" fill="#2a2a2a" stroke="#2a2a2a" stroke-width="0.25">40</text>
<text x="470.2" y="331.5" font-size="7.9" text-anchor="middle" fill="#2a2a2a" stroke="#2a2a2a" stroke-width="0.25">60</text>
<text x="500.8" y="331.5" font-size="7.9" text-anchor="middle" fill="#2a2a2a" stroke="#2a2a2a" stroke-width="0.25">80</text>
<text x="529.9" y="331.5" font-size="7.9" text-anchor="middle" fill="#2a2a2a" stroke="#2a2a2a" stroke-width="0.25">100</text>
<path d="M382.2 322.7v2M411.4 322.7v2M441.5 322.7v2M470.2 322.7v2M500.8 322.7v2M529.9 322.7v2M382.2 294.1h-2M382.2 312.8h-2" stroke="#777" stroke-width="0.5" fill="none"/>
<text x="360" y="34.9" font-size="6.4" text-anchor="start" fill="#333" stroke="#333" stroke-width="0.25">µm</text>
<text x="360" y="104.3" font-size="6.4" text-anchor="start" fill="#333" stroke="#333" stroke-width="0.25">µm</text>
<text x="360" y="178.2" font-size="6.4" text-anchor="start" fill="#333" stroke="#333" stroke-width="0.25">µm</text>
<text x="360.5" y="282.9" font-size="6.4" text-anchor="start" fill="#333" stroke="#333" stroke-width="0.25">µm</text>
<text x="537.3" y="81.8" font-size="6.4" text-anchor="start" fill="#333" stroke="#333" stroke-width="0.25">µm</text>
<text x="538" y="159.4" font-size="6.4" text-anchor="start" fill="#333" stroke="#333" stroke-width="0.25">µm</text>
<text x="537.3" y="258.9" font-size="6.4" text-anchor="start" fill="#333" stroke="#333" stroke-width="0.25">µm</text>
<text x="537.2" y="330" font-size="6.4" text-anchor="start" fill="#333" stroke="#333" stroke-width="0.25">µm</text>
<circle cx="72.2" cy="44.1" r="2.7" fill="#f5861f" stroke="#c9650f" stroke-width="0.6"/>
<circle cx="72.2" cy="61.8" r="2.7" fill="#f5861f" stroke="#c9650f" stroke-width="0.6"/>
<circle cx="85.4" cy="118.5" r="2.7" fill="#f5861f" stroke="#c9650f" stroke-width="0.6"/>
<circle cx="85.4" cy="136.5" r="2.7" fill="#f5861f" stroke="#c9650f" stroke-width="0.6"/>
<circle cx="101.8" cy="200.2" r="2.7" fill="#f5861f" stroke="#c9650f" stroke-width="0.6"/>
<circle cx="101.8" cy="227.9" r="2.7" fill="#f5861f" stroke="#c9650f" stroke-width="0.6"/>
<circle cx="78.9" cy="294.5" r="2.7" fill="#f5861f" stroke="#c9650f" stroke-width="0.6"/>
<circle cx="79.9" cy="307.6" r="2.7" fill="#f5861f" stroke="#c9650f" stroke-width="0.6"/>
<circle cx="267.9" cy="43.9" r="2.7" fill="#e8141e" stroke="#b00d14" stroke-width="0.6"/>
<circle cx="267.9" cy="61.6" r="2.7" fill="#e8141e" stroke="#b00d14" stroke-width="0.6"/>
<circle cx="305.6" cy="116.7" r="2.7" fill="#e8141e" stroke="#b00d14" stroke-width="0.6"/>
<circle cx="305.6" cy="139.2" r="2.7" fill="#e8141e" stroke="#b00d14" stroke-width="0.6"/>
<circle cx="321.3" cy="199.8" r="2.7" fill="#e8141e" stroke="#b00d14" stroke-width="0.6"/>
<circle cx="321.3" cy="229" r="2.7" fill="#e8141e" stroke="#b00d14" stroke-width="0.6"/>
<circle cx="334.1" cy="292.7" r="2.7" fill="#e8141e" stroke="#b00d14" stroke-width="0.6"/>
<circle cx="334.1" cy="308.4" r="2.7" fill="#e8141e" stroke="#b00d14" stroke-width="0.6"/>
<circle cx="368.5" cy="22.5" r="2.7" fill="#cfcfcf" stroke="#8c8c8c" stroke-width="0.6"/>
<text x="371.7" y="25.3" font-size="8.5" text-anchor="start" fill="#2a2a2a" stroke="#2a2a2a" stroke-width="0.25">0.5 µL/s</text>
<circle cx="407" cy="22.6" r="2.7" fill="#f5861f" stroke="#c9650f" stroke-width="0.6"/>
<text x="412.3" y="25.3" font-size="8.4" text-anchor="start" fill="#2a2a2a" stroke="#2a2a2a" stroke-width="0.25">1 µL/s</text>
<circle cx="441.5" cy="22.5" r="2.7" fill="#a0a0a0" stroke="#707070" stroke-width="0.6"/>
<text x="445" y="25.3" font-size="8.4" text-anchor="start" fill="#2a2a2a" stroke="#2a2a2a" stroke-width="0.25">2 µL/s</text>
<circle cx="473.2" cy="22.3" r="2.7" fill="#707070" stroke="#484848" stroke-width="0.6"/>
<text x="478.3" y="25.3" font-size="8.4" text-anchor="start" fill="#2a2a2a" stroke="#2a2a2a" stroke-width="0.25">4 µL/s</text>
<circle cx="506.4" cy="22.4" r="2.7" fill="#e8141e" stroke="#b00d14" stroke-width="0.6"/>
<text x="509.6" y="25.3" font-size="8.4" text-anchor="start" fill="#2a2a2a" stroke="#2a2a2a" stroke-width="0.25">8 µL/s</text>
<circle cx="357.1" cy="25.6" r="0.7" fill="#3a6fd0"/>
<path d="M429.8 44.2L434.2 43.9" stroke="#777" stroke-width="0.45" fill="none"/>
<path d="M436.4 43.8L434.3 45L434.1 42.8Z" fill="#111"/>
<path d="M429.8 60L434.2 60.3" stroke="#777" stroke-width="0.45" fill="none"/>
<path d="M436.4 60.4L434.1 61.4L434.3 59.2Z" fill="#111"/>
<circle cx="417.4" cy="43.7" r="2.7" fill="#cfcfcf" stroke="#8c8c8c" stroke-width="0.6"/>
<circle cx="418.8" cy="44" r="2.7" fill="#a0a0a0" stroke="#707070" stroke-width="0.6"/>
<circle cx="427" cy="44.4" r="2.7" fill="#707070" stroke="#484848" stroke-width="0.6"/>
<circle cx="422.2" cy="43.9" r="2.7" fill="#f5861f" stroke="#c9650f" stroke-width="0.6"/>
<circle cx="439.3" cy="43.7" r="2.7" fill="#e8141e" stroke="#b00d14" stroke-width="0.6"/>
<circle cx="417" cy="59.8" r="2.7" fill="#cfcfcf" stroke="#8c8c8c" stroke-width="0.6"/>
<circle cx="418.6" cy="60" r="2.7" fill="#a0a0a0" stroke="#707070" stroke-width="0.6"/>
<circle cx="426.8" cy="59.9" r="2.7" fill="#707070" stroke="#484848" stroke-width="0.6"/>
<circle cx="422.2" cy="60.7" r="2.7" fill="#f5861f" stroke="#c9650f" stroke-width="0.6"/>
<circle cx="439.3" cy="60.5" r="2.7" fill="#e8141e" stroke="#b00d14" stroke-width="0.6"/>
<path d="M419.2 39.7L419.4 39.7" stroke="#777" stroke-width="0.45" fill="none"/>
<path d="M421.4 40.6L418.9 40.8L419.8 38.7Z" fill="#111"/>
<path d="M419 55.7L419.2 55.7" stroke="#777" stroke-width="0.45" fill="none"/>
<path d="M421.2 56.6L418.7 56.8L419.6 54.7Z" fill="#111"/>
<path d="M418.2 44.4L418.4 44.4" stroke="#777" stroke-width="0.45" fill="none"/>
<path d="M420.6 44.4L418.4 45.5L418.4 43.3Z" fill="#111"/>
<path d="M418 60.4L418.2 60.4" stroke="#777" stroke-width="0.45" fill="none"/>
<path d="M420.4 60.4L418.2 61.5L418.2 59.3Z" fill="#111"/>
<path d="M437.7 118.6L447.2 117.8" stroke="#777" stroke-width="0.45" fill="none"/>
<path d="M449.4 117.6L447.3 118.9L447.1 116.7Z" fill="#111"/>
<path d="M455.2 117.3L471.6 116.6" stroke="#777" stroke-width="0.45" fill="none"/>
<path d="M473.8 116.5L471.6 117.7L471.6 115.5Z" fill="#111"/>
<circle cx="427.4" cy="118.8" r="2.7" fill="#cfcfcf" stroke="#8c8c8c" stroke-width="0.6"/>
<circle cx="429.6" cy="119.6" r="2.7" fill="#f5861f" stroke="#c9650f" stroke-width="0.6"/>
<circle cx="434.8" cy="118.8" r="2.7" fill="#a0a0a0" stroke="#707070" stroke-width="0.6"/>
<circle cx="452.3" cy="117.4" r="2.7" fill="#707070" stroke="#484848" stroke-width="0.6"/>
<circle cx="476.7" cy="116.4" r="2.7" fill="#e8141e" stroke="#b00d14" stroke-width="0.6"/>
<path d="M437.9 136.1L447.3 136.8" stroke="#777" stroke-width="0.45" fill="none"/>
<path d="M449.5 137L447.2 137.9L447.4 135.7Z" fill="#111"/>
<path d="M455.3 137.4L471.6 138.4" stroke="#777" stroke-width="0.45" fill="none"/>
<path d="M473.8 138.5L471.5 139.5L471.7 137.3Z" fill="#111"/>
<circle cx="427.7" cy="136.8" r="2.7" fill="#cfcfcf" stroke="#8c8c8c" stroke-width="0.6"/>
<circle cx="429.4" cy="137" r="2.7" fill="#f5861f" stroke="#c9650f" stroke-width="0.6"/>
<circle cx="435" cy="135.9" r="2.7" fill="#a0a0a0" stroke="#707070" stroke-width="0.6"/>
<circle cx="452.4" cy="137.2" r="2.7" fill="#707070" stroke="#484848" stroke-width="0.6"/>
<circle cx="476.7" cy="138.7" r="2.7" fill="#e8141e" stroke="#b00d14" stroke-width="0.6"/>
<path d="M426.2 114.3L426.4 114.3" stroke="#777" stroke-width="0.45" fill="none"/>
<path d="M428.6 114.3L426.4 115.4L426.4 113.2Z" fill="#111"/>
<path d="M427 141.9L427.2 141.9" stroke="#777" stroke-width="0.45" fill="none"/>
<path d="M429.4 141.9L427.2 143L427.2 140.8Z" fill="#111"/>
<path d="M430.6 119.1L430.8 119.1" stroke="#777" stroke-width="0.45" fill="none"/>
<path d="M433 119.1L430.8 120.2L430.8 118Z" fill="#111"/>
<path d="M430.4 137L430.6 136.9" stroke="#777" stroke-width="0.45" fill="none"/>
<path d="M432.8 136.5L430.9 138L430.4 135.9Z" fill="#111"/>
<path d="M449.3 200.2L454.6 201" stroke="#777" stroke-width="0.45" fill="none"/>
<path d="M456.7 201.3L454.4 202.1L454.7 199.9Z" fill="#111"/>
<path d="M462.5 201.7L482.6 201.6" stroke="#777" stroke-width="0.45" fill="none"/>
<path d="M484.8 201.6L482.6 202.7L482.6 200.5Z" fill="#111"/>
<circle cx="442.2" cy="200.6" r="2.7" fill="#cfcfcf" stroke="#8c8c8c" stroke-width="0.6"/>
<circle cx="446.4" cy="199.8" r="2.7" fill="#f5861f" stroke="#c9650f" stroke-width="0.6"/>
<circle cx="459.6" cy="201.7" r="2.7" fill="#a0a0a0" stroke="#707070" stroke-width="0.6"/>
<circle cx="487.7" cy="201.6" r="2.7" fill="#707070" stroke="#484848" stroke-width="0.6"/>
<circle cx="492.8" cy="199.6" r="2.7" fill="#e8141e" stroke="#b00d14" stroke-width="0.6"/>
<path d="M449.2 228L454.6 227.3" stroke="#777" stroke-width="0.45" fill="none"/>
<path d="M456.8 227L454.8 228.4L454.5 226.2Z" fill="#111"/>
<path d="M462.6 226.8L482.6 227.8" stroke="#777" stroke-width="0.45" fill="none"/>
<path d="M484.8 227.9L482.6 228.9L482.7 226.7Z" fill="#111"/>
<circle cx="442.2" cy="229.3" r="2.7" fill="#cfcfcf" stroke="#8c8c8c" stroke-width="0.6"/>
<circle cx="446.3" cy="228.3" r="2.7" fill="#f5861f" stroke="#c9650f" stroke-width="0.6"/>
<circle cx="459.7" cy="226.7" r="2.7" fill="#a0a0a0" stroke="#707070" stroke-width="0.6"/>
<circle cx="487.7" cy="228" r="2.7" fill="#707070" stroke="#484848" stroke-width="0.6"/>
<circle cx="492.7" cy="229.4" r="2.7" fill="#e8141e" stroke="#b00d14" stroke-width="0.6"/>
<path d="M489.1 193.8L489.3 193.8" stroke="#777" stroke-width="0.45" fill="none"/>
<path d="M491.5 193.8L489.3 194.9L489.3 192.7Z" fill="#111"/>
<path d="M489.6 234.7L489.8 234.7" stroke="#777" stroke-width="0.45" fill="none"/>
<path d="M492 234.7L489.8 235.8L489.8 233.6Z" fill="#111"/>
<path d="M442.2 200.2L442.4 200.2" stroke="#777" stroke-width="0.45" fill="none"/>
<path d="M444.6 200.2L442.4 201.3L442.4 199.1Z" fill="#111"/>
<path d="M442.2 228.8L442.4 228.8" stroke="#777" stroke-width="0.45" fill="none"/>
<path d="M444.6 228.8L442.4 229.9L442.4 227.7Z" fill="#111"/>
<path d="M426.2 294.6L426.2 294.6" stroke="#777" stroke-width="0.45" fill="none"/>
<path d="M428.4 295.1L426 295.7L426.4 293.6Z" fill="#111"/>
<path d="M434.1 295.5L472.1 294.6" stroke="#777" stroke-width="0.45" fill="none"/>
<path d="M474.3 294.6L472.1 295.7L472.1 293.5Z" fill="#111"/>
<path d="M480.1 294.4L501.7 293.3" stroke="#777" stroke-width="0.45" fill="none"/>
<path d="M503.9 293.2L501.8 294.4L501.7 292.2Z" fill="#111"/>
<circle cx="421.8" cy="294.4" r="2.7" fill="#cfcfcf" stroke="#8c8c8c" stroke-width="0.6"/>
<circle cx="423.4" cy="294.1" r="2.7" fill="#f5861f" stroke="#c9650f" stroke-width="0.6"/>
<circle cx="431.2" cy="295.6" r="2.7" fill="#a0a0a0" stroke="#707070" stroke-width="0.6"/>
<circle cx="477.2" cy="294.5" r="2.7" fill="#707070" stroke="#484848" stroke-width="0.6"/>
<circle cx="506.8" cy="293.1" r="2.7" fill="#e8141e" stroke="#b00d14" stroke-width="0.6"/>
<path d="M426.7 306.7L426.5 306.7" stroke="#777" stroke-width="0.45" fill="none"/>
<path d="M428.6 306.3L426.7 307.8L426.3 305.6Z" fill="#111"/>
<path d="M434.4 305.9L472.1 307" stroke="#777" stroke-width="0.45" fill="none"/>
<path d="M474.3 307.1L472.1 308.1L472.1 305.9Z" fill="#111"/>
<path d="M480.1 307.3L501.9 308" stroke="#777" stroke-width="0.45" fill="none"/>
<path d="M504.1 308.1L501.9 309.1L501.9 306.9Z" fill="#111"/>
<circle cx="421.4" cy="307.2" r="2.7" fill="#cfcfcf" stroke="#8c8c8c" stroke-width="0.6"/>
<circle cx="423.8" cy="307.2" r="2.7" fill="#f5861f" stroke="#c9650f" stroke-width="0.6"/>
<circle cx="431.5" cy="305.8" r="2.7" fill="#a0a0a0" stroke="#707070" stroke-width="0.6"/>
<circle cx="477.2" cy="307.2" r="2.7" fill="#707070" stroke="#484848" stroke-width="0.6"/>
<circle cx="507" cy="308.2" r="2.7" fill="#e8141e" stroke="#b00d14" stroke-width="0.6"/>
<path d="M419.1 291.8L419.3 291.9" stroke="#777" stroke-width="0.45" fill="none"/>
<path d="M421.2 293L418.7 292.9L419.8 291Z" fill="#111"/>
<path d="M420.8 309.8L421 310" stroke="#777" stroke-width="0.45" fill="none"/>
<path d="M422.8 311.2L420.4 310.9L421.6 309Z" fill="#111"/>
<path d="M426.6 294.7L426.8 294.8" stroke="#777" stroke-width="0.45" fill="none"/>
<path d="M429 295.2L426.6 295.8L427.1 293.7Z" fill="#111"/>
<path d="M426.8 306.7L427 306.6" stroke="#777" stroke-width="0.45" fill="none"/>
<path d="M429.2 306.2L427.3 307.7L426.8 305.6Z" fill="#111"/>
</svg></body></html>
